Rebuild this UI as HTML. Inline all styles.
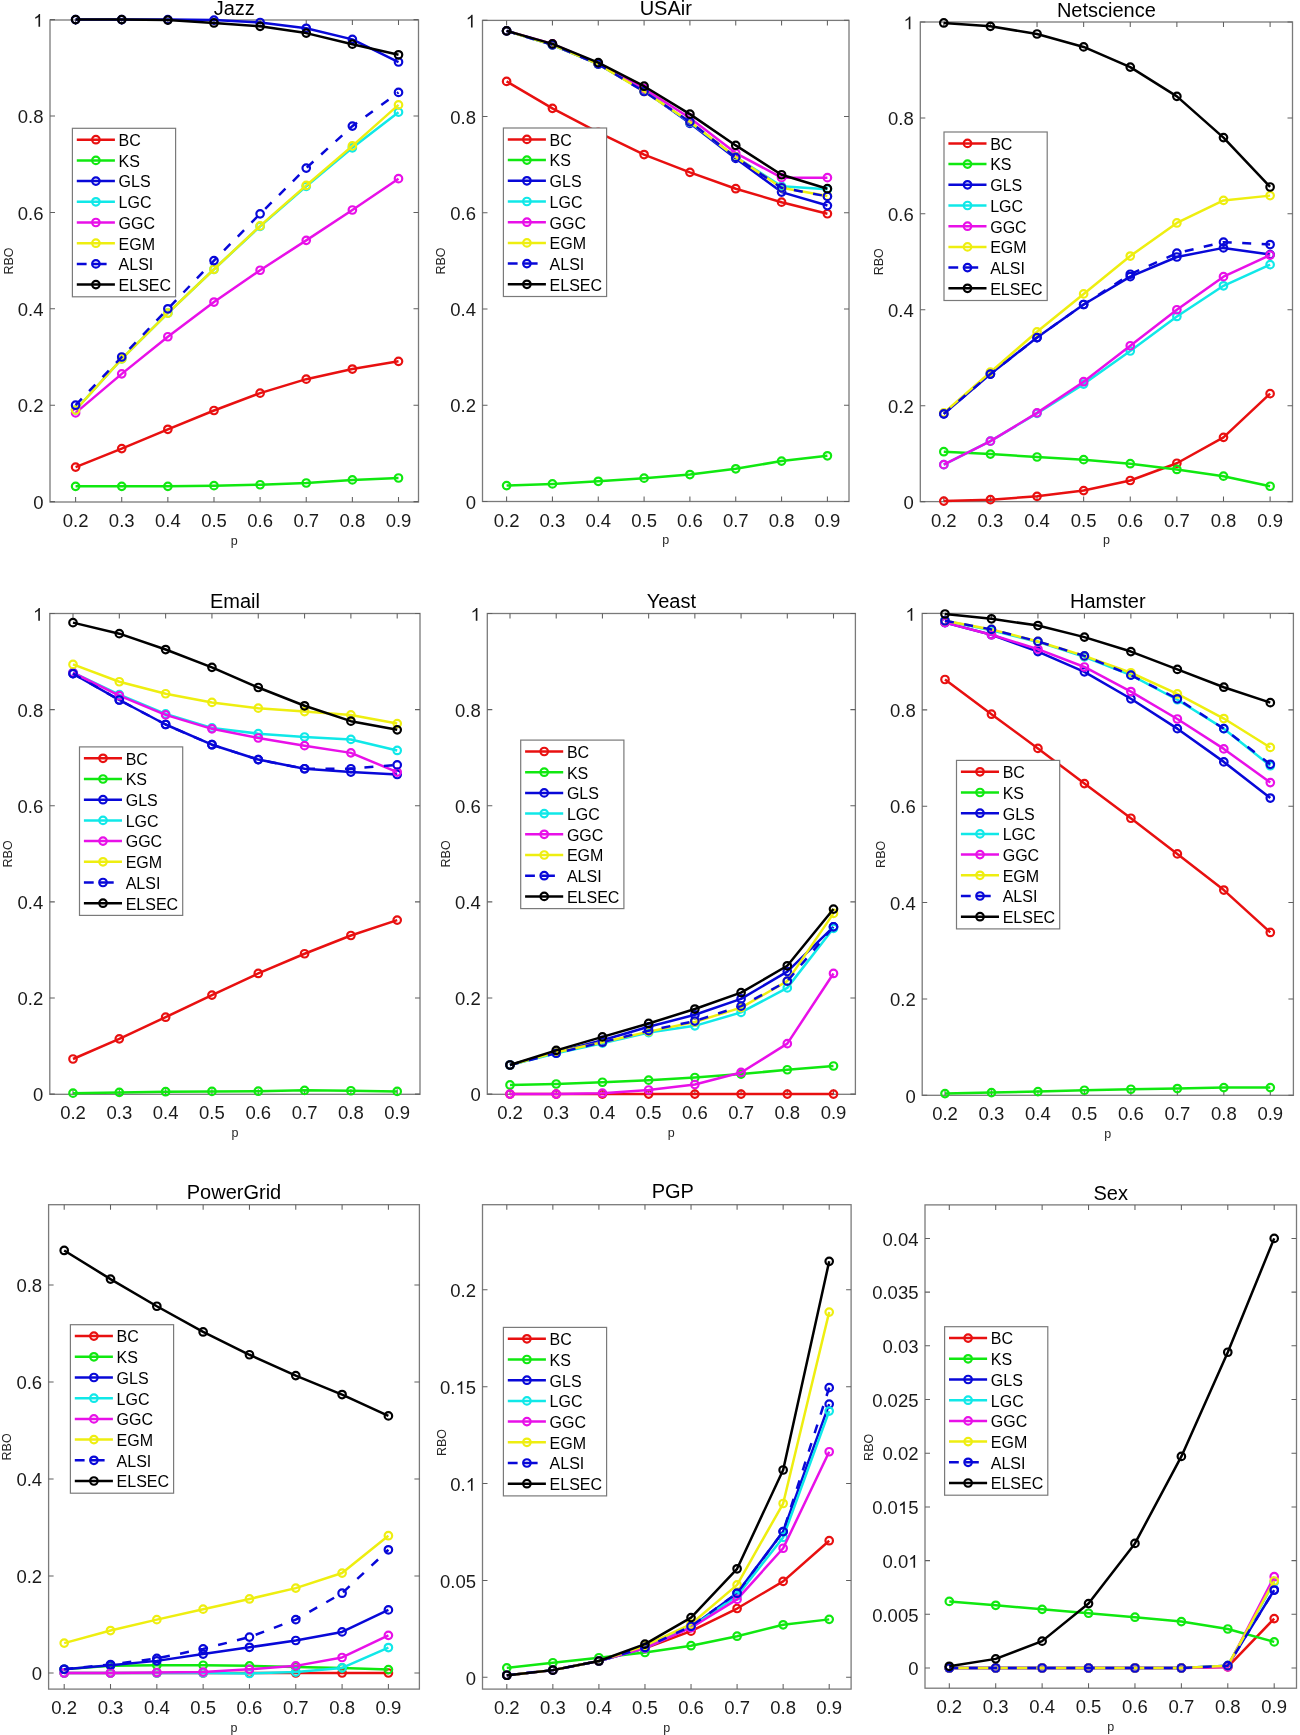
<!DOCTYPE html>
<html><head><meta charset="utf-8"><title>RBO charts</title>
<style>
html,body{margin:0;padding:0;background:#fff;}
body{width:1300px;height:1735px;overflow:hidden;}
svg{display:block;font-family:"Liberation Sans", sans-serif;will-change:transform;}
</style></head><body>
<svg width="1300" height="1735" viewBox="0 0 1300 1735">
<rect width="1300" height="1735" fill="#fff"/>
<clipPath id="cJazz"><rect x="50" y="20" width="368.5" height="482"/></clipPath>
<rect x="50" y="20" width="368.5" height="482" fill="none" stroke="#7a7a7a" stroke-width="1.3"/>
<path d="M75.6 502v-5M75.6 20v5M121.73 502v-5M121.73 20v5M167.86 502v-5M167.86 20v5M213.99 502v-5M213.99 20v5M260.11 502v-5M260.11 20v5M306.24 502v-5M306.24 20v5M352.37 502v-5M352.37 20v5M398.5 502v-5M398.5 20v5M50 501.6h5M418.5 501.6h-5M50 405.2h5M418.5 405.2h-5M50 308.8h5M418.5 308.8h-5M50 212.4h5M418.5 212.4h-5M50 116h5M418.5 116h-5M50 19.6h5M418.5 19.6h-5" stroke="#606060" stroke-width="1.05" fill="none"/>
<g font-size="18.5" fill="#1a1a1a"><text x="62.74" y="527">0.2</text><text x="108.87" y="527">0.3</text><text x="155" y="527">0.4</text><text x="201.13" y="527">0.5</text><text x="247.26" y="527">0.6</text><text x="293.38" y="527">0.7</text><text x="339.51" y="527">0.8</text><text x="385.64" y="527">0.9</text><text x="33.21" y="508.8">0</text><text x="17.78" y="412.4">0.2</text><text x="17.78" y="316">0.4</text><text x="17.78" y="219.6">0.6</text><text x="17.78" y="123.2">0.8</text><text x="33.21" y="26.8"> </text><path transform="translate(33.21 26.8) scale(0.00903 -0.00903)" d="M763 0H583V1098C540 1059 483 1020 413 980C342 941 279 911 223 891V1058C324 1103 412 1158 487 1221C562 1284 615 1347 646 1409H763Z"/></g>
<text x="234.25" y="14.7" text-anchor="middle" font-size="20" fill="#000">Jazz</text>
<text x="234.25" y="544.7" text-anchor="middle" font-size="12.5" fill="#262626">p</text>
<text transform="translate(12.5 261) rotate(-90)" text-anchor="middle" font-size="12.5" fill="#262626">RBO</text>
<g fill="none" stroke-linejoin="round"><polyline points="75.6,467.09 121.73,448.58 167.86,429.3 213.99,410.5 260.11,393.15 306.24,379.17 352.37,369.05 398.5,361.34" stroke="#e81010" stroke-width="2.5"/><g stroke="#e81010" stroke-width="2.2"><circle cx="75.6" cy="467.09" r="3.75"/><circle cx="121.73" cy="448.58" r="3.75"/><circle cx="167.86" cy="429.3" r="3.75"/><circle cx="213.99" cy="410.5" r="3.75"/><circle cx="260.11" cy="393.15" r="3.75"/><circle cx="306.24" cy="379.17" r="3.75"/><circle cx="352.37" cy="369.05" r="3.75"/><circle cx="398.5" cy="361.34" r="3.75"/></g><polyline points="75.6,486.37 121.73,486.37 167.86,486.37 213.99,485.69 260.11,484.73 306.24,482.99 352.37,479.91 398.5,477.98" stroke="#10e810" stroke-width="2.5"/><g stroke="#10e810" stroke-width="2.2"><circle cx="75.6" cy="486.37" r="3.75"/><circle cx="121.73" cy="486.37" r="3.75"/><circle cx="167.86" cy="486.37" r="3.75"/><circle cx="213.99" cy="485.69" r="3.75"/><circle cx="260.11" cy="484.73" r="3.75"/><circle cx="306.24" cy="482.99" r="3.75"/><circle cx="352.37" cy="479.91" r="3.75"/><circle cx="398.5" cy="477.98" r="3.75"/></g><polyline points="75.6,19.6 121.73,19.6 167.86,19.6 213.99,20.08 260.11,22.49 306.24,28.28 352.37,39.36 398.5,62.02" stroke="#0808d8" stroke-width="2.5"/><g stroke="#0808d8" stroke-width="2.2"><circle cx="75.6" cy="19.6" r="3.75"/><circle cx="121.73" cy="19.6" r="3.75"/><circle cx="167.86" cy="19.6" r="3.75"/><circle cx="213.99" cy="20.08" r="3.75"/><circle cx="260.11" cy="22.49" r="3.75"/><circle cx="306.24" cy="28.28" r="3.75"/><circle cx="352.37" cy="39.36" r="3.75"/><circle cx="398.5" cy="62.02" r="3.75"/></g><polyline points="75.6,410.02 121.73,358.93 167.86,313.14 213.99,269.28 260.11,226.38 306.24,186.37 352.37,147.81 398.5,112.14" stroke="#10e8e8" stroke-width="2.5"/><g stroke="#10e8e8" stroke-width="2.2"><circle cx="75.6" cy="410.02" r="3.75"/><circle cx="121.73" cy="358.93" r="3.75"/><circle cx="167.86" cy="313.14" r="3.75"/><circle cx="213.99" cy="269.28" r="3.75"/><circle cx="260.11" cy="226.38" r="3.75"/><circle cx="306.24" cy="186.37" r="3.75"/><circle cx="352.37" cy="147.81" r="3.75"/><circle cx="398.5" cy="112.14" r="3.75"/></g><polyline points="75.6,412.91 121.73,373.87 167.86,336.76 213.99,302.05 260.11,270.24 306.24,240.36 352.37,209.99 398.5,178.66" stroke="#e810e8" stroke-width="2.5"/><g stroke="#e810e8" stroke-width="2.2"><circle cx="75.6" cy="412.91" r="3.75"/><circle cx="121.73" cy="373.87" r="3.75"/><circle cx="167.86" cy="336.76" r="3.75"/><circle cx="213.99" cy="302.05" r="3.75"/><circle cx="260.11" cy="270.24" r="3.75"/><circle cx="306.24" cy="240.36" r="3.75"/><circle cx="352.37" cy="209.99" r="3.75"/><circle cx="398.5" cy="178.66" r="3.75"/></g><polyline points="75.6,410.02 121.73,358.93 167.86,313.14 213.99,269.28 260.11,225.9 306.24,185.41 352.37,145.88 398.5,104.91" stroke="#eeee10" stroke-width="2.5"/><g stroke="#eeee10" stroke-width="2.2"><circle cx="75.6" cy="410.02" r="3.75"/><circle cx="121.73" cy="358.93" r="3.75"/><circle cx="167.86" cy="313.14" r="3.75"/><circle cx="213.99" cy="269.28" r="3.75"/><circle cx="260.11" cy="225.9" r="3.75"/><circle cx="306.24" cy="185.41" r="3.75"/><circle cx="352.37" cy="145.88" r="3.75"/><circle cx="398.5" cy="104.91" r="3.75"/></g><polyline points="75.6,405.2 121.73,357 167.86,308.8 213.99,260.6 260.11,213.85 306.24,168.06 352.37,126.12 398.5,92.38" stroke="#0808d8" stroke-width="2.5" stroke-dasharray="9 10.5"/><g stroke="#0808d8" stroke-width="2.2"><circle cx="75.6" cy="405.2" r="3.75"/><circle cx="121.73" cy="357" r="3.75"/><circle cx="167.86" cy="308.8" r="3.75"/><circle cx="213.99" cy="260.6" r="3.75"/><circle cx="260.11" cy="213.85" r="3.75"/><circle cx="306.24" cy="168.06" r="3.75"/><circle cx="352.37" cy="126.12" r="3.75"/><circle cx="398.5" cy="92.38" r="3.75"/></g><polyline points="75.6,19.6 121.73,19.6 167.86,20.08 213.99,22.97 260.11,26.35 306.24,33.1 352.37,44.18 398.5,54.79" stroke="#000000" stroke-width="2.5"/><g stroke="#000000" stroke-width="2.2"><circle cx="75.6" cy="19.6" r="3.75"/><circle cx="121.73" cy="19.6" r="3.75"/><circle cx="167.86" cy="20.08" r="3.75"/><circle cx="213.99" cy="22.97" r="3.75"/><circle cx="260.11" cy="26.35" r="3.75"/><circle cx="306.24" cy="33.1" r="3.75"/><circle cx="352.37" cy="44.18" r="3.75"/><circle cx="398.5" cy="54.79" r="3.75"/></g></g>
<rect x="72.4" y="128.3" width="103.2" height="168.5" fill="#fff" stroke="#7a7a7a" stroke-width="1.2"/><path d="M76.8 139.7H114.9" stroke="#e81010" stroke-width="2.5" fill="none"/><circle cx="95.9" cy="139.7" r="3.75" fill="none" stroke="#e81010" stroke-width="2.2"/><text x="118.6" y="146" font-size="16" fill="#000">BC</text><path d="M76.8 160.4H114.9" stroke="#10e810" stroke-width="2.5" fill="none"/><circle cx="95.9" cy="160.4" r="3.75" fill="none" stroke="#10e810" stroke-width="2.2"/><text x="118.6" y="166.7" font-size="16" fill="#000">KS</text><path d="M76.8 181.1H114.9" stroke="#0808d8" stroke-width="2.5" fill="none"/><circle cx="95.9" cy="181.1" r="3.75" fill="none" stroke="#0808d8" stroke-width="2.2"/><text x="118.6" y="187.4" font-size="16" fill="#000">GLS</text><path d="M76.8 201.8H114.9" stroke="#10e8e8" stroke-width="2.5" fill="none"/><circle cx="95.9" cy="201.8" r="3.75" fill="none" stroke="#10e8e8" stroke-width="2.2"/><text x="118.6" y="208.1" font-size="16" fill="#000">LGC</text><path d="M76.8 222.5H114.9" stroke="#e810e8" stroke-width="2.5" fill="none"/><circle cx="95.9" cy="222.5" r="3.75" fill="none" stroke="#e810e8" stroke-width="2.2"/><text x="118.6" y="228.8" font-size="16" fill="#000">GGC</text><path d="M76.8 243.2H114.9" stroke="#eeee10" stroke-width="2.5" fill="none"/><circle cx="95.9" cy="243.2" r="3.75" fill="none" stroke="#eeee10" stroke-width="2.2"/><text x="118.6" y="249.5" font-size="16" fill="#000">EGM</text><path d="M76.8 263.9H86.6M92.9 263.9H106.6" stroke="#0808d8" stroke-width="2.5" fill="none"/><circle cx="95.9" cy="263.9" r="3.75" fill="none" stroke="#0808d8" stroke-width="2.2"/><text x="118.6" y="270.2" font-size="16" fill="#000">ALSI</text><path d="M76.8 284.6H114.9" stroke="#000000" stroke-width="2.5" fill="none"/><circle cx="95.9" cy="284.6" r="3.75" fill="none" stroke="#000000" stroke-width="2.2"/><text x="118.6" y="290.9" font-size="16" fill="#000">ELSEC</text>
<clipPath id="cUSAir"><rect x="482.5" y="20.4" width="366.5" height="481.1"/></clipPath>
<rect x="482.5" y="20.4" width="366.5" height="481.1" fill="none" stroke="#7a7a7a" stroke-width="1.3"/>
<path d="M506.6 501.5v-5M506.6 20.4v5M552.43 501.5v-5M552.43 20.4v5M598.26 501.5v-5M598.26 20.4v5M644.09 501.5v-5M644.09 20.4v5M689.91 501.5v-5M689.91 20.4v5M735.74 501.5v-5M735.74 20.4v5M781.57 501.5v-5M781.57 20.4v5M827.4 501.5v-5M827.4 20.4v5M482.5 501.5h5M849 501.5h-5M482.5 405.26h5M849 405.26h-5M482.5 309.02h5M849 309.02h-5M482.5 212.78h5M849 212.78h-5M482.5 116.54h5M849 116.54h-5M482.5 20.3h5M849 20.3h-5" stroke="#606060" stroke-width="1.05" fill="none"/>
<g font-size="18.5" fill="#1a1a1a"><text x="493.74" y="526.5">0.2</text><text x="539.57" y="526.5">0.3</text><text x="585.4" y="526.5">0.4</text><text x="631.23" y="526.5">0.5</text><text x="677.06" y="526.5">0.6</text><text x="722.88" y="526.5">0.7</text><text x="768.71" y="526.5">0.8</text><text x="814.54" y="526.5">0.9</text><text x="465.71" y="508.7">0</text><text x="450.28" y="412.46">0.2</text><text x="450.28" y="316.22">0.4</text><text x="450.28" y="219.98">0.6</text><text x="450.28" y="123.74">0.8</text><text x="465.71" y="27.5"> </text><path transform="translate(465.71 27.5) scale(0.00903 -0.00903)" d="M763 0H583V1098C540 1059 483 1020 413 980C342 941 279 911 223 891V1058C324 1103 412 1158 487 1221C562 1284 615 1347 646 1409H763Z"/></g>
<text x="665.75" y="15.1" text-anchor="middle" font-size="20" fill="#000">USAir</text>
<text x="665.75" y="544.2" text-anchor="middle" font-size="12.5" fill="#262626">p</text>
<text transform="translate(445.2 260.95) rotate(-90)" text-anchor="middle" font-size="12.5" fill="#262626">RBO</text>
<g fill="none" stroke-linejoin="round"><polyline points="506.6,81.41 552.43,108.36 598.26,132.42 644.09,154.55 689.91,172.36 735.74,188.72 781.57,202.19 827.4,213.74" stroke="#e81010" stroke-width="2.5"/><g stroke="#e81010" stroke-width="2.2"><circle cx="506.6" cy="81.41" r="3.75"/><circle cx="552.43" cy="108.36" r="3.75"/><circle cx="598.26" cy="132.42" r="3.75"/><circle cx="644.09" cy="154.55" r="3.75"/><circle cx="689.91" cy="172.36" r="3.75"/><circle cx="735.74" cy="188.72" r="3.75"/><circle cx="781.57" cy="202.19" r="3.75"/><circle cx="827.4" cy="213.74" r="3.75"/></g><polyline points="506.6,485.62 552.43,483.89 598.26,481.29 644.09,478.16 689.91,474.55 735.74,468.78 781.57,461.08 827.4,455.79" stroke="#10e810" stroke-width="2.5"/><g stroke="#10e810" stroke-width="2.2"><circle cx="506.6" cy="485.62" r="3.75"/><circle cx="552.43" cy="483.89" r="3.75"/><circle cx="598.26" cy="481.29" r="3.75"/><circle cx="644.09" cy="478.16" r="3.75"/><circle cx="689.91" cy="474.55" r="3.75"/><circle cx="735.74" cy="468.78" r="3.75"/><circle cx="781.57" cy="461.08" r="3.75"/><circle cx="827.4" cy="455.79" r="3.75"/></g><polyline points="506.6,30.89 552.43,44.84 598.26,64.09 644.09,90.56 689.91,123.28 735.74,158.4 781.57,192.09 827.4,205.56" stroke="#0808d8" stroke-width="2.5"/><g stroke="#0808d8" stroke-width="2.2"><circle cx="506.6" cy="30.89" r="3.75"/><circle cx="552.43" cy="44.84" r="3.75"/><circle cx="598.26" cy="64.09" r="3.75"/><circle cx="644.09" cy="90.56" r="3.75"/><circle cx="689.91" cy="123.28" r="3.75"/><circle cx="735.74" cy="158.4" r="3.75"/><circle cx="781.57" cy="192.09" r="3.75"/><circle cx="827.4" cy="205.56" r="3.75"/></g><polyline points="506.6,30.89 552.43,44.84 598.26,64.09 644.09,91.04 689.91,122.31 735.74,156.96 781.57,186.31 827.4,189.2" stroke="#10e8e8" stroke-width="2.5"/><g stroke="#10e8e8" stroke-width="2.2"><circle cx="506.6" cy="30.89" r="3.75"/><circle cx="552.43" cy="44.84" r="3.75"/><circle cx="598.26" cy="64.09" r="3.75"/><circle cx="644.09" cy="91.04" r="3.75"/><circle cx="689.91" cy="122.31" r="3.75"/><circle cx="735.74" cy="156.96" r="3.75"/><circle cx="781.57" cy="186.31" r="3.75"/><circle cx="827.4" cy="189.2" r="3.75"/></g><polyline points="506.6,30.89 552.43,43.88 598.26,63.61 644.09,88.63 689.91,117.98 735.74,153.11 781.57,177.65 827.4,177.65" stroke="#e810e8" stroke-width="2.5"/><g stroke="#e810e8" stroke-width="2.2"><circle cx="506.6" cy="30.89" r="3.75"/><circle cx="552.43" cy="43.88" r="3.75"/><circle cx="598.26" cy="63.61" r="3.75"/><circle cx="644.09" cy="88.63" r="3.75"/><circle cx="689.91" cy="117.98" r="3.75"/><circle cx="735.74" cy="153.11" r="3.75"/><circle cx="781.57" cy="177.65" r="3.75"/><circle cx="827.4" cy="177.65" r="3.75"/></g><polyline points="506.6,30.89 552.43,44.84 598.26,64.09 644.09,91.52 689.91,121.83 735.74,156.96 781.57,187.76 827.4,195.94" stroke="#eeee10" stroke-width="2.5"/><g stroke="#eeee10" stroke-width="2.2"><circle cx="506.6" cy="30.89" r="3.75"/><circle cx="552.43" cy="44.84" r="3.75"/><circle cx="598.26" cy="64.09" r="3.75"/><circle cx="644.09" cy="91.52" r="3.75"/><circle cx="689.91" cy="121.83" r="3.75"/><circle cx="735.74" cy="156.96" r="3.75"/><circle cx="781.57" cy="187.76" r="3.75"/><circle cx="827.4" cy="195.94" r="3.75"/></g><polyline points="506.6,30.89 552.43,44.84 598.26,64.09 644.09,91.52 689.91,121.83 735.74,157.44 781.57,187.76 827.4,196.42" stroke="#0808d8" stroke-width="2.5" stroke-dasharray="9 10.5"/><g stroke="#0808d8" stroke-width="2.2"><circle cx="506.6" cy="30.89" r="3.75"/><circle cx="552.43" cy="44.84" r="3.75"/><circle cx="598.26" cy="64.09" r="3.75"/><circle cx="644.09" cy="91.52" r="3.75"/><circle cx="689.91" cy="121.83" r="3.75"/><circle cx="735.74" cy="157.44" r="3.75"/><circle cx="781.57" cy="187.76" r="3.75"/><circle cx="827.4" cy="196.42" r="3.75"/></g><polyline points="506.6,30.89 552.43,43.88 598.26,62.65 644.09,86.22 689.91,114.13 735.74,145.41 781.57,174.77 827.4,188.72" stroke="#000000" stroke-width="2.5"/><g stroke="#000000" stroke-width="2.2"><circle cx="506.6" cy="30.89" r="3.75"/><circle cx="552.43" cy="43.88" r="3.75"/><circle cx="598.26" cy="62.65" r="3.75"/><circle cx="644.09" cy="86.22" r="3.75"/><circle cx="689.91" cy="114.13" r="3.75"/><circle cx="735.74" cy="145.41" r="3.75"/><circle cx="781.57" cy="174.77" r="3.75"/><circle cx="827.4" cy="188.72" r="3.75"/></g></g>
<rect x="503.4" y="128" width="103.2" height="168.5" fill="#fff" stroke="#7a7a7a" stroke-width="1.2"/><path d="M507.8 139.4H545.9" stroke="#e81010" stroke-width="2.5" fill="none"/><circle cx="526.9" cy="139.4" r="3.75" fill="none" stroke="#e81010" stroke-width="2.2"/><text x="549.6" y="145.7" font-size="16" fill="#000">BC</text><path d="M507.8 160.1H545.9" stroke="#10e810" stroke-width="2.5" fill="none"/><circle cx="526.9" cy="160.1" r="3.75" fill="none" stroke="#10e810" stroke-width="2.2"/><text x="549.6" y="166.4" font-size="16" fill="#000">KS</text><path d="M507.8 180.8H545.9" stroke="#0808d8" stroke-width="2.5" fill="none"/><circle cx="526.9" cy="180.8" r="3.75" fill="none" stroke="#0808d8" stroke-width="2.2"/><text x="549.6" y="187.1" font-size="16" fill="#000">GLS</text><path d="M507.8 201.5H545.9" stroke="#10e8e8" stroke-width="2.5" fill="none"/><circle cx="526.9" cy="201.5" r="3.75" fill="none" stroke="#10e8e8" stroke-width="2.2"/><text x="549.6" y="207.8" font-size="16" fill="#000">LGC</text><path d="M507.8 222.2H545.9" stroke="#e810e8" stroke-width="2.5" fill="none"/><circle cx="526.9" cy="222.2" r="3.75" fill="none" stroke="#e810e8" stroke-width="2.2"/><text x="549.6" y="228.5" font-size="16" fill="#000">GGC</text><path d="M507.8 242.9H545.9" stroke="#eeee10" stroke-width="2.5" fill="none"/><circle cx="526.9" cy="242.9" r="3.75" fill="none" stroke="#eeee10" stroke-width="2.2"/><text x="549.6" y="249.2" font-size="16" fill="#000">EGM</text><path d="M507.8 263.6H517.6M523.9 263.6H537.6" stroke="#0808d8" stroke-width="2.5" fill="none"/><circle cx="526.9" cy="263.6" r="3.75" fill="none" stroke="#0808d8" stroke-width="2.2"/><text x="549.6" y="269.9" font-size="16" fill="#000">ALSI</text><path d="M507.8 284.3H545.9" stroke="#000000" stroke-width="2.5" fill="none"/><circle cx="526.9" cy="284.3" r="3.75" fill="none" stroke="#000000" stroke-width="2.2"/><text x="549.6" y="290.6" font-size="16" fill="#000">ELSEC</text>
<clipPath id="cNetscience"><rect x="920.3" y="22" width="372.2" height="479.6"/></clipPath>
<rect x="920.3" y="22" width="372.2" height="479.6" fill="none" stroke="#7a7a7a" stroke-width="1.3"/>
<path d="M943.8 501.6v-5M943.8 22v5M990.41 501.6v-5M990.41 22v5M1037.03 501.6v-5M1037.03 22v5M1083.64 501.6v-5M1083.64 22v5M1130.26 501.6v-5M1130.26 22v5M1176.87 501.6v-5M1176.87 22v5M1223.49 501.6v-5M1223.49 22v5M1270.1 501.6v-5M1270.1 22v5M920.3 501.6h5M1292.5 501.6h-5M920.3 405.68h5M1292.5 405.68h-5M920.3 309.76h5M1292.5 309.76h-5M920.3 213.84h5M1292.5 213.84h-5M920.3 117.92h5M1292.5 117.92h-5M920.3 22h5M1292.5 22h-5" stroke="#606060" stroke-width="1.05" fill="none"/>
<g font-size="18.5" fill="#1a1a1a"><text x="930.94" y="526.6">0.2</text><text x="977.56" y="526.6">0.3</text><text x="1024.17" y="526.6">0.4</text><text x="1070.78" y="526.6">0.5</text><text x="1117.4" y="526.6">0.6</text><text x="1164.01" y="526.6">0.7</text><text x="1210.63" y="526.6">0.8</text><text x="1257.24" y="526.6">0.9</text><text x="903.51" y="508.8">0</text><text x="888.08" y="412.88">0.2</text><text x="888.08" y="316.96">0.4</text><text x="888.08" y="221.04">0.6</text><text x="888.08" y="125.12">0.8</text><text x="903.51" y="29.2"> </text><path transform="translate(903.51 29.2) scale(0.00903 -0.00903)" d="M763 0H583V1098C540 1059 483 1020 413 980C342 941 279 911 223 891V1058C324 1103 412 1158 487 1221C562 1284 615 1347 646 1409H763Z"/></g>
<text x="1106.4" y="16.7" text-anchor="middle" font-size="20" fill="#000">Netscience</text>
<text x="1106.4" y="544.3" text-anchor="middle" font-size="12.5" fill="#262626">p</text>
<text transform="translate(883 261.8) rotate(-90)" text-anchor="middle" font-size="12.5" fill="#262626">RBO</text>
<g fill="none" stroke-linejoin="round"><polyline points="943.8,501.12 990.41,499.68 1037.03,496.32 1083.64,490.57 1130.26,480.5 1176.87,463.23 1223.49,437.33 1270.1,393.69" stroke="#e81010" stroke-width="2.5"/><g stroke="#e81010" stroke-width="2.2"><circle cx="943.8" cy="501.12" r="3.75"/><circle cx="990.41" cy="499.68" r="3.75"/><circle cx="1037.03" cy="496.32" r="3.75"/><circle cx="1083.64" cy="490.57" r="3.75"/><circle cx="1130.26" cy="480.5" r="3.75"/><circle cx="1176.87" cy="463.23" r="3.75"/><circle cx="1223.49" cy="437.33" r="3.75"/><circle cx="1270.1" cy="393.69" r="3.75"/></g><polyline points="943.8,451.72 990.41,454.12 1037.03,457 1083.64,459.64 1130.26,463.71 1176.87,469.47 1223.49,476.18 1270.1,486.25" stroke="#10e810" stroke-width="2.5"/><g stroke="#10e810" stroke-width="2.2"><circle cx="943.8" cy="451.72" r="3.75"/><circle cx="990.41" cy="454.12" r="3.75"/><circle cx="1037.03" cy="457" r="3.75"/><circle cx="1083.64" cy="459.64" r="3.75"/><circle cx="1130.26" cy="463.71" r="3.75"/><circle cx="1176.87" cy="469.47" r="3.75"/><circle cx="1223.49" cy="476.18" r="3.75"/><circle cx="1270.1" cy="486.25" r="3.75"/></g><polyline points="943.8,413.83 990.41,374.03 1037.03,337.58 1083.64,304.48 1130.26,276.67 1176.87,257 1223.49,247.89 1270.1,254.61" stroke="#0808d8" stroke-width="2.5"/><g stroke="#0808d8" stroke-width="2.2"><circle cx="943.8" cy="413.83" r="3.75"/><circle cx="990.41" cy="374.03" r="3.75"/><circle cx="1037.03" cy="337.58" r="3.75"/><circle cx="1083.64" cy="304.48" r="3.75"/><circle cx="1130.26" cy="276.67" r="3.75"/><circle cx="1176.87" cy="257" r="3.75"/><circle cx="1223.49" cy="247.89" r="3.75"/><circle cx="1270.1" cy="254.61" r="3.75"/></g><polyline points="943.8,464.67 990.41,441.17 1037.03,413.35 1083.64,384.1 1130.26,351.01 1176.87,316.47 1223.49,285.78 1270.1,264.68" stroke="#10e8e8" stroke-width="2.5"/><g stroke="#10e8e8" stroke-width="2.2"><circle cx="943.8" cy="464.67" r="3.75"/><circle cx="990.41" cy="441.17" r="3.75"/><circle cx="1037.03" cy="413.35" r="3.75"/><circle cx="1083.64" cy="384.1" r="3.75"/><circle cx="1130.26" cy="351.01" r="3.75"/><circle cx="1176.87" cy="316.47" r="3.75"/><circle cx="1223.49" cy="285.78" r="3.75"/><circle cx="1270.1" cy="264.68" r="3.75"/></g><polyline points="943.8,464.67 990.41,441.17 1037.03,412.87 1083.64,381.7 1130.26,345.73 1176.87,309.76 1223.49,276.67 1270.1,255.09" stroke="#e810e8" stroke-width="2.5"/><g stroke="#e810e8" stroke-width="2.2"><circle cx="943.8" cy="464.67" r="3.75"/><circle cx="990.41" cy="441.17" r="3.75"/><circle cx="1037.03" cy="412.87" r="3.75"/><circle cx="1083.64" cy="381.7" r="3.75"/><circle cx="1130.26" cy="345.73" r="3.75"/><circle cx="1176.87" cy="309.76" r="3.75"/><circle cx="1223.49" cy="276.67" r="3.75"/><circle cx="1270.1" cy="255.09" r="3.75"/></g><polyline points="943.8,412.87 990.41,372.11 1037.03,331.82 1083.64,293.93 1130.26,256.04 1176.87,222.95 1223.49,200.41 1270.1,195.62" stroke="#eeee10" stroke-width="2.5"/><g stroke="#eeee10" stroke-width="2.2"><circle cx="943.8" cy="412.87" r="3.75"/><circle cx="990.41" cy="372.11" r="3.75"/><circle cx="1037.03" cy="331.82" r="3.75"/><circle cx="1083.64" cy="293.93" r="3.75"/><circle cx="1130.26" cy="256.04" r="3.75"/><circle cx="1176.87" cy="222.95" r="3.75"/><circle cx="1223.49" cy="200.41" r="3.75"/><circle cx="1270.1" cy="195.62" r="3.75"/></g><polyline points="943.8,413.83 990.41,374.03 1037.03,337.58 1083.64,304.48 1130.26,274.27 1176.87,253.17 1223.49,242.14 1270.1,244.53" stroke="#0808d8" stroke-width="2.5" stroke-dasharray="9 10.5"/><g stroke="#0808d8" stroke-width="2.2"><circle cx="943.8" cy="413.83" r="3.75"/><circle cx="990.41" cy="374.03" r="3.75"/><circle cx="1037.03" cy="337.58" r="3.75"/><circle cx="1083.64" cy="304.48" r="3.75"/><circle cx="1130.26" cy="274.27" r="3.75"/><circle cx="1176.87" cy="253.17" r="3.75"/><circle cx="1223.49" cy="242.14" r="3.75"/><circle cx="1270.1" cy="244.53" r="3.75"/></g><polyline points="943.8,22.96 990.41,26.32 1037.03,33.99 1083.64,46.94 1130.26,67.08 1176.87,96.34 1223.49,137.58 1270.1,186.98" stroke="#000000" stroke-width="2.5"/><g stroke="#000000" stroke-width="2.2"><circle cx="943.8" cy="22.96" r="3.75"/><circle cx="990.41" cy="26.32" r="3.75"/><circle cx="1037.03" cy="33.99" r="3.75"/><circle cx="1083.64" cy="46.94" r="3.75"/><circle cx="1130.26" cy="67.08" r="3.75"/><circle cx="1176.87" cy="96.34" r="3.75"/><circle cx="1223.49" cy="137.58" r="3.75"/><circle cx="1270.1" cy="186.98" r="3.75"/></g></g>
<rect x="944" y="132" width="103.2" height="168.5" fill="#fff" stroke="#7a7a7a" stroke-width="1.2"/><path d="M948.4 143.4H986.5" stroke="#e81010" stroke-width="2.5" fill="none"/><circle cx="967.5" cy="143.4" r="3.75" fill="none" stroke="#e81010" stroke-width="2.2"/><text x="990.2" y="149.7" font-size="16" fill="#000">BC</text><path d="M948.4 164.1H986.5" stroke="#10e810" stroke-width="2.5" fill="none"/><circle cx="967.5" cy="164.1" r="3.75" fill="none" stroke="#10e810" stroke-width="2.2"/><text x="990.2" y="170.4" font-size="16" fill="#000">KS</text><path d="M948.4 184.8H986.5" stroke="#0808d8" stroke-width="2.5" fill="none"/><circle cx="967.5" cy="184.8" r="3.75" fill="none" stroke="#0808d8" stroke-width="2.2"/><text x="990.2" y="191.1" font-size="16" fill="#000">GLS</text><path d="M948.4 205.5H986.5" stroke="#10e8e8" stroke-width="2.5" fill="none"/><circle cx="967.5" cy="205.5" r="3.75" fill="none" stroke="#10e8e8" stroke-width="2.2"/><text x="990.2" y="211.8" font-size="16" fill="#000">LGC</text><path d="M948.4 226.2H986.5" stroke="#e810e8" stroke-width="2.5" fill="none"/><circle cx="967.5" cy="226.2" r="3.75" fill="none" stroke="#e810e8" stroke-width="2.2"/><text x="990.2" y="232.5" font-size="16" fill="#000">GGC</text><path d="M948.4 246.9H986.5" stroke="#eeee10" stroke-width="2.5" fill="none"/><circle cx="967.5" cy="246.9" r="3.75" fill="none" stroke="#eeee10" stroke-width="2.2"/><text x="990.2" y="253.2" font-size="16" fill="#000">EGM</text><path d="M948.4 267.6H958.2M964.5 267.6H978.2" stroke="#0808d8" stroke-width="2.5" fill="none"/><circle cx="967.5" cy="267.6" r="3.75" fill="none" stroke="#0808d8" stroke-width="2.2"/><text x="990.2" y="273.9" font-size="16" fill="#000">ALSI</text><path d="M948.4 288.3H986.5" stroke="#000000" stroke-width="2.5" fill="none"/><circle cx="967.5" cy="288.3" r="3.75" fill="none" stroke="#000000" stroke-width="2.2"/><text x="990.2" y="294.6" font-size="16" fill="#000">ELSEC</text>
<clipPath id="cEmail"><rect x="49.8" y="613.5" width="370.2" height="480.8"/></clipPath>
<rect x="49.8" y="613.5" width="370.2" height="480.8" fill="none" stroke="#7a7a7a" stroke-width="1.3"/>
<path d="M73 1094.3v-5M73 613.5v5M119.31 1094.3v-5M119.31 613.5v5M165.63 1094.3v-5M165.63 613.5v5M211.94 1094.3v-5M211.94 613.5v5M258.26 1094.3v-5M258.26 613.5v5M304.57 1094.3v-5M304.57 613.5v5M350.89 1094.3v-5M350.89 613.5v5M397.2 1094.3v-5M397.2 613.5v5M49.8 1094.1h5M420 1094.1h-5M49.8 997.98h5M420 997.98h-5M49.8 901.86h5M420 901.86h-5M49.8 805.74h5M420 805.74h-5M49.8 709.62h5M420 709.62h-5M49.8 613.5h5M420 613.5h-5" stroke="#606060" stroke-width="1.05" fill="none"/>
<g font-size="18.5" fill="#1a1a1a"><text x="60.14" y="1119.3">0.2</text><text x="106.46" y="1119.3">0.3</text><text x="152.77" y="1119.3">0.4</text><text x="199.08" y="1119.3">0.5</text><text x="245.4" y="1119.3">0.6</text><text x="291.71" y="1119.3">0.7</text><text x="338.03" y="1119.3">0.8</text><text x="384.34" y="1119.3">0.9</text><text x="33.01" y="1101.3">0</text><text x="17.58" y="1005.18">0.2</text><text x="17.58" y="909.06">0.4</text><text x="17.58" y="812.94">0.6</text><text x="17.58" y="716.82">0.8</text><text x="33.01" y="620.7"> </text><path transform="translate(33.01 620.7) scale(0.00903 -0.00903)" d="M763 0H583V1098C540 1059 483 1020 413 980C342 941 279 911 223 891V1058C324 1103 412 1158 487 1221C562 1284 615 1347 646 1409H763Z"/></g>
<text x="234.9" y="608.2" text-anchor="middle" font-size="20" fill="#000">Email</text>
<text x="234.9" y="1137" text-anchor="middle" font-size="12.5" fill="#262626">p</text>
<text transform="translate(12.3 853.9) rotate(-90)" text-anchor="middle" font-size="12.5" fill="#262626">RBO</text>
<g fill="none" stroke-linejoin="round"><polyline points="73,1059.02 119.31,1038.83 165.63,1017.2 211.94,995.1 258.26,973.47 304.57,953.76 350.89,935.5 397.2,920.12" stroke="#e81010" stroke-width="2.5"/><g stroke="#e81010" stroke-width="2.2"><circle cx="73" cy="1059.02" r="3.75"/><circle cx="119.31" cy="1038.83" r="3.75"/><circle cx="165.63" cy="1017.2" r="3.75"/><circle cx="211.94" cy="995.1" r="3.75"/><circle cx="258.26" cy="973.47" r="3.75"/><circle cx="304.57" cy="953.76" r="3.75"/><circle cx="350.89" cy="935.5" r="3.75"/><circle cx="397.2" cy="920.12" r="3.75"/></g><polyline points="73,1093.14 119.31,1092.42 165.63,1091.7 211.94,1091.41 258.26,1091.22 304.57,1090.35 350.89,1090.74 397.2,1091.41" stroke="#10e810" stroke-width="2.5"/><g stroke="#10e810" stroke-width="2.2"><circle cx="73" cy="1093.14" r="3.75"/><circle cx="119.31" cy="1092.42" r="3.75"/><circle cx="165.63" cy="1091.7" r="3.75"/><circle cx="211.94" cy="1091.41" r="3.75"/><circle cx="258.26" cy="1091.22" r="3.75"/><circle cx="304.57" cy="1090.35" r="3.75"/><circle cx="350.89" cy="1090.74" r="3.75"/><circle cx="397.2" cy="1091.41" r="3.75"/></g><polyline points="73,673.58 119.31,700.01 165.63,724.52 211.94,744.7 258.26,759.6 304.57,768.73 350.89,772.1 397.2,774.5" stroke="#0808d8" stroke-width="2.5"/><g stroke="#0808d8" stroke-width="2.2"><circle cx="73" cy="673.58" r="3.75"/><circle cx="119.31" cy="700.01" r="3.75"/><circle cx="165.63" cy="724.52" r="3.75"/><circle cx="211.94" cy="744.7" r="3.75"/><circle cx="258.26" cy="759.6" r="3.75"/><circle cx="304.57" cy="768.73" r="3.75"/><circle cx="350.89" cy="772.1" r="3.75"/><circle cx="397.2" cy="774.5" r="3.75"/></g><polyline points="73,672.61 119.31,694.72 165.63,713.95 211.94,727.88 258.26,733.65 304.57,737.01 350.89,739.42 397.2,750.47" stroke="#10e8e8" stroke-width="2.5"/><g stroke="#10e8e8" stroke-width="2.2"><circle cx="73" cy="672.61" r="3.75"/><circle cx="119.31" cy="694.72" r="3.75"/><circle cx="165.63" cy="713.95" r="3.75"/><circle cx="211.94" cy="727.88" r="3.75"/><circle cx="258.26" cy="733.65" r="3.75"/><circle cx="304.57" cy="737.01" r="3.75"/><circle cx="350.89" cy="739.42" r="3.75"/><circle cx="397.2" cy="750.47" r="3.75"/></g><polyline points="73,672.61 119.31,695.68 165.63,714.91 211.94,728.84 258.26,737.98 304.57,745.66 350.89,752.87 397.2,772.1" stroke="#e810e8" stroke-width="2.5"/><g stroke="#e810e8" stroke-width="2.2"><circle cx="73" cy="672.61" r="3.75"/><circle cx="119.31" cy="695.68" r="3.75"/><circle cx="165.63" cy="714.91" r="3.75"/><circle cx="211.94" cy="728.84" r="3.75"/><circle cx="258.26" cy="737.98" r="3.75"/><circle cx="304.57" cy="745.66" r="3.75"/><circle cx="350.89" cy="752.87" r="3.75"/><circle cx="397.2" cy="772.1" r="3.75"/></g><polyline points="73,664.44 119.31,681.75 165.63,693.76 211.94,702.41 258.26,708.18 304.57,711.54 350.89,714.91 397.2,723.56" stroke="#eeee10" stroke-width="2.5"/><g stroke="#eeee10" stroke-width="2.2"><circle cx="73" cy="664.44" r="3.75"/><circle cx="119.31" cy="681.75" r="3.75"/><circle cx="165.63" cy="693.76" r="3.75"/><circle cx="211.94" cy="702.41" r="3.75"/><circle cx="258.26" cy="708.18" r="3.75"/><circle cx="304.57" cy="711.54" r="3.75"/><circle cx="350.89" cy="714.91" r="3.75"/><circle cx="397.2" cy="723.56" r="3.75"/></g><polyline points="73,673.58 119.31,700.01 165.63,724.52 211.94,744.7 258.26,759.6 304.57,768.73 350.89,768.73 397.2,764.89" stroke="#0808d8" stroke-width="2.5" stroke-dasharray="9 10.5"/><g stroke="#0808d8" stroke-width="2.2"><circle cx="73" cy="673.58" r="3.75"/><circle cx="119.31" cy="700.01" r="3.75"/><circle cx="165.63" cy="724.52" r="3.75"/><circle cx="211.94" cy="744.7" r="3.75"/><circle cx="258.26" cy="759.6" r="3.75"/><circle cx="304.57" cy="768.73" r="3.75"/><circle cx="350.89" cy="768.73" r="3.75"/><circle cx="397.2" cy="764.89" r="3.75"/></g><polyline points="73,622.63 119.31,633.69 165.63,649.54 211.94,667.33 258.26,687.51 304.57,705.78 350.89,721.15 397.2,729.81" stroke="#000000" stroke-width="2.5"/><g stroke="#000000" stroke-width="2.2"><circle cx="73" cy="622.63" r="3.75"/><circle cx="119.31" cy="633.69" r="3.75"/><circle cx="165.63" cy="649.54" r="3.75"/><circle cx="211.94" cy="667.33" r="3.75"/><circle cx="258.26" cy="687.51" r="3.75"/><circle cx="304.57" cy="705.78" r="3.75"/><circle cx="350.89" cy="721.15" r="3.75"/><circle cx="397.2" cy="729.81" r="3.75"/></g></g>
<rect x="79.5" y="746.9" width="103.2" height="168.5" fill="#fff" stroke="#7a7a7a" stroke-width="1.2"/><path d="M83.9 758.3H122" stroke="#e81010" stroke-width="2.5" fill="none"/><circle cx="103" cy="758.3" r="3.75" fill="none" stroke="#e81010" stroke-width="2.2"/><text x="125.7" y="764.6" font-size="16" fill="#000">BC</text><path d="M83.9 779H122" stroke="#10e810" stroke-width="2.5" fill="none"/><circle cx="103" cy="779" r="3.75" fill="none" stroke="#10e810" stroke-width="2.2"/><text x="125.7" y="785.3" font-size="16" fill="#000">KS</text><path d="M83.9 799.7H122" stroke="#0808d8" stroke-width="2.5" fill="none"/><circle cx="103" cy="799.7" r="3.75" fill="none" stroke="#0808d8" stroke-width="2.2"/><text x="125.7" y="806" font-size="16" fill="#000">GLS</text><path d="M83.9 820.4H122" stroke="#10e8e8" stroke-width="2.5" fill="none"/><circle cx="103" cy="820.4" r="3.75" fill="none" stroke="#10e8e8" stroke-width="2.2"/><text x="125.7" y="826.7" font-size="16" fill="#000">LGC</text><path d="M83.9 841.1H122" stroke="#e810e8" stroke-width="2.5" fill="none"/><circle cx="103" cy="841.1" r="3.75" fill="none" stroke="#e810e8" stroke-width="2.2"/><text x="125.7" y="847.4" font-size="16" fill="#000">GGC</text><path d="M83.9 861.8H122" stroke="#eeee10" stroke-width="2.5" fill="none"/><circle cx="103" cy="861.8" r="3.75" fill="none" stroke="#eeee10" stroke-width="2.2"/><text x="125.7" y="868.1" font-size="16" fill="#000">EGM</text><path d="M83.9 882.5H93.7M100 882.5H113.7" stroke="#0808d8" stroke-width="2.5" fill="none"/><circle cx="103" cy="882.5" r="3.75" fill="none" stroke="#0808d8" stroke-width="2.2"/><text x="125.7" y="888.8" font-size="16" fill="#000">ALSI</text><path d="M83.9 903.2H122" stroke="#000000" stroke-width="2.5" fill="none"/><circle cx="103" cy="903.2" r="3.75" fill="none" stroke="#000000" stroke-width="2.2"/><text x="125.7" y="909.5" font-size="16" fill="#000">ELSEC</text>
<clipPath id="cYeast"><rect x="487.3" y="613.5" width="368.1" height="480.8"/></clipPath>
<rect x="487.3" y="613.5" width="368.1" height="480.8" fill="none" stroke="#7a7a7a" stroke-width="1.3"/>
<path d="M510 1094.3v-5M510 613.5v5M556.21 1094.3v-5M556.21 613.5v5M602.43 1094.3v-5M602.43 613.5v5M648.64 1094.3v-5M648.64 613.5v5M694.86 1094.3v-5M694.86 613.5v5M741.07 1094.3v-5M741.07 613.5v5M787.29 1094.3v-5M787.29 613.5v5M833.5 1094.3v-5M833.5 613.5v5M487.3 1094.1h5M855.4 1094.1h-5M487.3 997.98h5M855.4 997.98h-5M487.3 901.86h5M855.4 901.86h-5M487.3 805.74h5M855.4 805.74h-5M487.3 709.62h5M855.4 709.62h-5M487.3 613.5h5M855.4 613.5h-5" stroke="#606060" stroke-width="1.05" fill="none"/>
<g font-size="18.5" fill="#1a1a1a"><text x="497.14" y="1119.3">0.2</text><text x="543.36" y="1119.3">0.3</text><text x="589.57" y="1119.3">0.4</text><text x="635.78" y="1119.3">0.5</text><text x="682" y="1119.3">0.6</text><text x="728.21" y="1119.3">0.7</text><text x="774.43" y="1119.3">0.8</text><text x="820.64" y="1119.3">0.9</text><text x="470.51" y="1101.3">0</text><text x="455.08" y="1005.18">0.2</text><text x="455.08" y="909.06">0.4</text><text x="455.08" y="812.94">0.6</text><text x="455.08" y="716.82">0.8</text><text x="470.51" y="620.7"> </text><path transform="translate(470.51 620.7) scale(0.00903 -0.00903)" d="M763 0H583V1098C540 1059 483 1020 413 980C342 941 279 911 223 891V1058C324 1103 412 1158 487 1221C562 1284 615 1347 646 1409H763Z"/></g>
<text x="671.35" y="608.2" text-anchor="middle" font-size="20" fill="#000">Yeast</text>
<text x="671.35" y="1137" text-anchor="middle" font-size="12.5" fill="#262626">p</text>
<text transform="translate(449.8 853.9) rotate(-90)" text-anchor="middle" font-size="12.5" fill="#262626">RBO</text>
<g fill="none" stroke-linejoin="round"><polyline points="510,1094.1 556.21,1094.1 602.43,1094.1 648.64,1094.1 694.86,1094.1 741.07,1094.1 787.29,1094.1 833.5,1094.1" stroke="#e81010" stroke-width="2.5"/><g stroke="#e81010" stroke-width="2.2"><circle cx="510" cy="1094.1" r="3.75"/><circle cx="556.21" cy="1094.1" r="3.75"/><circle cx="602.43" cy="1094.1" r="3.75"/><circle cx="648.64" cy="1094.1" r="3.75"/><circle cx="694.86" cy="1094.1" r="3.75"/><circle cx="741.07" cy="1094.1" r="3.75"/><circle cx="787.29" cy="1094.1" r="3.75"/><circle cx="833.5" cy="1094.1" r="3.75"/></g><polyline points="510,1084.97 556.21,1084.01 602.43,1082.23 648.64,1080.16 694.86,1077.52 741.07,1074.11 787.29,1069.73 833.5,1065.98" stroke="#10e810" stroke-width="2.5"/><g stroke="#10e810" stroke-width="2.2"><circle cx="510" cy="1084.97" r="3.75"/><circle cx="556.21" cy="1084.01" r="3.75"/><circle cx="602.43" cy="1082.23" r="3.75"/><circle cx="648.64" cy="1080.16" r="3.75"/><circle cx="694.86" cy="1077.52" r="3.75"/><circle cx="741.07" cy="1074.11" r="3.75"/><circle cx="787.29" cy="1069.73" r="3.75"/><circle cx="833.5" cy="1065.98" r="3.75"/></g><polyline points="510,1064.98 556.21,1052.29 602.43,1040.27 648.64,1026.82 694.86,1014.8 741.07,998.94 787.29,971.55 833.5,926.85" stroke="#0808d8" stroke-width="2.5"/><g stroke="#0808d8" stroke-width="2.2"><circle cx="510" cy="1064.98" r="3.75"/><circle cx="556.21" cy="1052.29" r="3.75"/><circle cx="602.43" cy="1040.27" r="3.75"/><circle cx="648.64" cy="1026.82" r="3.75"/><circle cx="694.86" cy="1014.8" r="3.75"/><circle cx="741.07" cy="998.94" r="3.75"/><circle cx="787.29" cy="971.55" r="3.75"/><circle cx="833.5" cy="926.85" r="3.75"/></g><polyline points="510,1064.98 556.21,1053.25 602.43,1043.16 648.64,1032.58 694.86,1025.85 741.07,1012.4 787.29,987.89 833.5,928.29" stroke="#10e8e8" stroke-width="2.5"/><g stroke="#10e8e8" stroke-width="2.2"><circle cx="510" cy="1064.98" r="3.75"/><circle cx="556.21" cy="1053.25" r="3.75"/><circle cx="602.43" cy="1043.16" r="3.75"/><circle cx="648.64" cy="1032.58" r="3.75"/><circle cx="694.86" cy="1025.85" r="3.75"/><circle cx="741.07" cy="1012.4" r="3.75"/><circle cx="787.29" cy="987.89" r="3.75"/><circle cx="833.5" cy="928.29" r="3.75"/></g><polyline points="510,1094.1 556.21,1094.1 602.43,1093.14 648.64,1090.01 694.86,1084.49 741.07,1072.47 787.29,1043.64 833.5,973.47" stroke="#e810e8" stroke-width="2.5"/><g stroke="#e810e8" stroke-width="2.2"><circle cx="510" cy="1094.1" r="3.75"/><circle cx="556.21" cy="1094.1" r="3.75"/><circle cx="602.43" cy="1093.14" r="3.75"/><circle cx="648.64" cy="1090.01" r="3.75"/><circle cx="694.86" cy="1084.49" r="3.75"/><circle cx="741.07" cy="1072.47" r="3.75"/><circle cx="787.29" cy="1043.64" r="3.75"/><circle cx="833.5" cy="973.47" r="3.75"/></g><polyline points="510,1064.98 556.21,1052.29 602.43,1042.2 648.64,1031.62 694.86,1022.01 741.07,1007.59 787.29,981.16 833.5,913.39" stroke="#eeee10" stroke-width="2.5"/><g stroke="#eeee10" stroke-width="2.2"><circle cx="510" cy="1064.98" r="3.75"/><circle cx="556.21" cy="1052.29" r="3.75"/><circle cx="602.43" cy="1042.2" r="3.75"/><circle cx="648.64" cy="1031.62" r="3.75"/><circle cx="694.86" cy="1022.01" r="3.75"/><circle cx="741.07" cy="1007.59" r="3.75"/><circle cx="787.29" cy="981.16" r="3.75"/><circle cx="833.5" cy="913.39" r="3.75"/></g><polyline points="510,1064.98 556.21,1053.25 602.43,1042.2 648.64,1030.66 694.86,1021.05 741.07,1006.15 787.29,981.16 833.5,926.85" stroke="#0808d8" stroke-width="2.5" stroke-dasharray="9 10.5"/><g stroke="#0808d8" stroke-width="2.2"><circle cx="510" cy="1064.98" r="3.75"/><circle cx="556.21" cy="1053.25" r="3.75"/><circle cx="602.43" cy="1042.2" r="3.75"/><circle cx="648.64" cy="1030.66" r="3.75"/><circle cx="694.86" cy="1021.05" r="3.75"/><circle cx="741.07" cy="1006.15" r="3.75"/><circle cx="787.29" cy="981.16" r="3.75"/><circle cx="833.5" cy="926.85" r="3.75"/></g><polyline points="510,1064.98 556.21,1050.37 602.43,1036.91 648.64,1023.45 694.86,1009.03 741.07,992.69 787.29,965.78 833.5,909.07" stroke="#000000" stroke-width="2.5"/><g stroke="#000000" stroke-width="2.2"><circle cx="510" cy="1064.98" r="3.75"/><circle cx="556.21" cy="1050.37" r="3.75"/><circle cx="602.43" cy="1036.91" r="3.75"/><circle cx="648.64" cy="1023.45" r="3.75"/><circle cx="694.86" cy="1009.03" r="3.75"/><circle cx="741.07" cy="992.69" r="3.75"/><circle cx="787.29" cy="965.78" r="3.75"/><circle cx="833.5" cy="909.07" r="3.75"/></g></g>
<rect x="520.7" y="740.1" width="103.2" height="168.5" fill="#fff" stroke="#7a7a7a" stroke-width="1.2"/><path d="M525.1 751.5H563.2" stroke="#e81010" stroke-width="2.5" fill="none"/><circle cx="544.2" cy="751.5" r="3.75" fill="none" stroke="#e81010" stroke-width="2.2"/><text x="566.9" y="757.8" font-size="16" fill="#000">BC</text><path d="M525.1 772.2H563.2" stroke="#10e810" stroke-width="2.5" fill="none"/><circle cx="544.2" cy="772.2" r="3.75" fill="none" stroke="#10e810" stroke-width="2.2"/><text x="566.9" y="778.5" font-size="16" fill="#000">KS</text><path d="M525.1 792.9H563.2" stroke="#0808d8" stroke-width="2.5" fill="none"/><circle cx="544.2" cy="792.9" r="3.75" fill="none" stroke="#0808d8" stroke-width="2.2"/><text x="566.9" y="799.2" font-size="16" fill="#000">GLS</text><path d="M525.1 813.6H563.2" stroke="#10e8e8" stroke-width="2.5" fill="none"/><circle cx="544.2" cy="813.6" r="3.75" fill="none" stroke="#10e8e8" stroke-width="2.2"/><text x="566.9" y="819.9" font-size="16" fill="#000">LGC</text><path d="M525.1 834.3H563.2" stroke="#e810e8" stroke-width="2.5" fill="none"/><circle cx="544.2" cy="834.3" r="3.75" fill="none" stroke="#e810e8" stroke-width="2.2"/><text x="566.9" y="840.6" font-size="16" fill="#000">GGC</text><path d="M525.1 855H563.2" stroke="#eeee10" stroke-width="2.5" fill="none"/><circle cx="544.2" cy="855" r="3.75" fill="none" stroke="#eeee10" stroke-width="2.2"/><text x="566.9" y="861.3" font-size="16" fill="#000">EGM</text><path d="M525.1 875.7H534.9M541.2 875.7H554.9" stroke="#0808d8" stroke-width="2.5" fill="none"/><circle cx="544.2" cy="875.7" r="3.75" fill="none" stroke="#0808d8" stroke-width="2.2"/><text x="566.9" y="882" font-size="16" fill="#000">ALSI</text><path d="M525.1 896.4H563.2" stroke="#000000" stroke-width="2.5" fill="none"/><circle cx="544.2" cy="896.4" r="3.75" fill="none" stroke="#000000" stroke-width="2.2"/><text x="566.9" y="902.7" font-size="16" fill="#000">ELSEC</text>
<clipPath id="cHamster"><rect x="922.2" y="613.4" width="371.2" height="481.9"/></clipPath>
<rect x="922.2" y="613.4" width="371.2" height="481.9" fill="none" stroke="#7a7a7a" stroke-width="1.3"/>
<path d="M945 1095.3v-5M945 613.4v5M991.47 1095.3v-5M991.47 613.4v5M1037.94 1095.3v-5M1037.94 613.4v5M1084.41 1095.3v-5M1084.41 613.4v5M1130.89 1095.3v-5M1130.89 613.4v5M1177.36 1095.3v-5M1177.36 613.4v5M1223.83 1095.3v-5M1223.83 613.4v5M1270.3 1095.3v-5M1270.3 613.4v5M922.2 1095.3h5M1293.4 1095.3h-5M922.2 998.94h5M1293.4 998.94h-5M922.2 902.58h5M1293.4 902.58h-5M922.2 806.22h5M1293.4 806.22h-5M922.2 709.86h5M1293.4 709.86h-5M922.2 613.5h5M1293.4 613.5h-5" stroke="#606060" stroke-width="1.05" fill="none"/>
<g font-size="18.5" fill="#1a1a1a"><text x="932.14" y="1120.3">0.2</text><text x="978.61" y="1120.3">0.3</text><text x="1025.08" y="1120.3">0.4</text><text x="1071.56" y="1120.3">0.5</text><text x="1118.03" y="1120.3">0.6</text><text x="1164.5" y="1120.3">0.7</text><text x="1210.97" y="1120.3">0.8</text><text x="1257.44" y="1120.3">0.9</text><text x="905.41" y="1102.5">0</text><text x="889.98" y="1006.14">0.2</text><text x="889.98" y="909.78">0.4</text><text x="889.98" y="813.42">0.6</text><text x="889.98" y="717.06">0.8</text><text x="905.41" y="620.7"> </text><path transform="translate(905.41 620.7) scale(0.00903 -0.00903)" d="M763 0H583V1098C540 1059 483 1020 413 980C342 941 279 911 223 891V1058C324 1103 412 1158 487 1221C562 1284 615 1347 646 1409H763Z"/></g>
<text x="1107.8" y="608.1" text-anchor="middle" font-size="20" fill="#000">Hamster</text>
<text x="1107.8" y="1138" text-anchor="middle" font-size="12.5" fill="#262626">p</text>
<text transform="translate(884.7 854.35) rotate(-90)" text-anchor="middle" font-size="12.5" fill="#262626">RBO</text>
<g fill="none" stroke-linejoin="round"><polyline points="945,679.51 991.47,714.2 1037.94,748.4 1084.41,783.58 1130.89,818.26 1177.36,853.92 1223.83,890.05 1270.3,932.45" stroke="#e81010" stroke-width="2.5"/><g stroke="#e81010" stroke-width="2.2"><circle cx="945" cy="679.51" r="3.75"/><circle cx="991.47" cy="714.2" r="3.75"/><circle cx="1037.94" cy="748.4" r="3.75"/><circle cx="1084.41" cy="783.58" r="3.75"/><circle cx="1130.89" cy="818.26" r="3.75"/><circle cx="1177.36" cy="853.92" r="3.75"/><circle cx="1223.83" cy="890.05" r="3.75"/><circle cx="1270.3" cy="932.45" r="3.75"/></g><polyline points="945,1093.61 991.47,1092.6 1037.94,1091.59 1084.41,1090.24 1130.89,1089.23 1177.36,1088.55 1223.83,1087.59 1270.3,1087.59" stroke="#10e810" stroke-width="2.5"/><g stroke="#10e810" stroke-width="2.2"><circle cx="945" cy="1093.61" r="3.75"/><circle cx="991.47" cy="1092.6" r="3.75"/><circle cx="1037.94" cy="1091.59" r="3.75"/><circle cx="1084.41" cy="1090.24" r="3.75"/><circle cx="1130.89" cy="1089.23" r="3.75"/><circle cx="1177.36" cy="1088.55" r="3.75"/><circle cx="1223.83" cy="1087.59" r="3.75"/><circle cx="1270.3" cy="1087.59" r="3.75"/></g><polyline points="945,622.65 991.47,634.7 1037.94,651.56 1084.41,671.8 1130.89,698.78 1177.36,728.65 1223.83,761.89 1270.3,798.03" stroke="#0808d8" stroke-width="2.5"/><g stroke="#0808d8" stroke-width="2.2"><circle cx="945" cy="622.65" r="3.75"/><circle cx="991.47" cy="634.7" r="3.75"/><circle cx="1037.94" cy="651.56" r="3.75"/><circle cx="1084.41" cy="671.8" r="3.75"/><circle cx="1130.89" cy="698.78" r="3.75"/><circle cx="1177.36" cy="728.65" r="3.75"/><circle cx="1223.83" cy="761.89" r="3.75"/><circle cx="1270.3" cy="798.03" r="3.75"/></g><polyline points="945,620.73 991.47,630.36 1037.94,641.93 1084.41,656.86 1130.89,675.17 1177.36,699.74 1223.83,728.65 1270.3,765.75" stroke="#10e8e8" stroke-width="2.5"/><g stroke="#10e8e8" stroke-width="2.2"><circle cx="945" cy="620.73" r="3.75"/><circle cx="991.47" cy="630.36" r="3.75"/><circle cx="1037.94" cy="641.93" r="3.75"/><circle cx="1084.41" cy="656.86" r="3.75"/><circle cx="1130.89" cy="675.17" r="3.75"/><circle cx="1177.36" cy="699.74" r="3.75"/><circle cx="1223.83" cy="728.65" r="3.75"/><circle cx="1270.3" cy="765.75" r="3.75"/></g><polyline points="945,622.65 991.47,634.7 1037.94,649.15 1084.41,666.98 1130.89,691.55 1177.36,719.01 1223.83,748.89 1270.3,782.61" stroke="#e810e8" stroke-width="2.5"/><g stroke="#e810e8" stroke-width="2.2"><circle cx="945" cy="622.65" r="3.75"/><circle cx="991.47" cy="634.7" r="3.75"/><circle cx="1037.94" cy="649.15" r="3.75"/><circle cx="1084.41" cy="666.98" r="3.75"/><circle cx="1130.89" cy="691.55" r="3.75"/><circle cx="1177.36" cy="719.01" r="3.75"/><circle cx="1223.83" cy="748.89" r="3.75"/><circle cx="1270.3" cy="782.61" r="3.75"/></g><polyline points="945,620.73 991.47,629.4 1037.94,641.44 1084.41,655.9 1130.89,672.76 1177.36,693.96 1223.83,718.53 1270.3,747.44" stroke="#eeee10" stroke-width="2.5"/><g stroke="#eeee10" stroke-width="2.2"><circle cx="945" cy="620.73" r="3.75"/><circle cx="991.47" cy="629.4" r="3.75"/><circle cx="1037.94" cy="641.44" r="3.75"/><circle cx="1084.41" cy="655.9" r="3.75"/><circle cx="1130.89" cy="672.76" r="3.75"/><circle cx="1177.36" cy="693.96" r="3.75"/><circle cx="1223.83" cy="718.53" r="3.75"/><circle cx="1270.3" cy="747.44" r="3.75"/></g><polyline points="945,620.73 991.47,629.4 1037.94,641.44 1084.41,655.9 1130.89,675.17 1177.36,698.78 1223.83,728.65 1270.3,764.3" stroke="#0808d8" stroke-width="2.5" stroke-dasharray="9 10.5"/><g stroke="#0808d8" stroke-width="2.2"><circle cx="945" cy="620.73" r="3.75"/><circle cx="991.47" cy="629.4" r="3.75"/><circle cx="1037.94" cy="641.44" r="3.75"/><circle cx="1084.41" cy="655.9" r="3.75"/><circle cx="1130.89" cy="675.17" r="3.75"/><circle cx="1177.36" cy="698.78" r="3.75"/><circle cx="1223.83" cy="728.65" r="3.75"/><circle cx="1270.3" cy="764.3" r="3.75"/></g><polyline points="945,613.98 991.47,618.8 1037.94,625.55 1084.41,637.11 1130.89,651.56 1177.36,669.39 1223.83,687.22 1270.3,702.63" stroke="#000000" stroke-width="2.5"/><g stroke="#000000" stroke-width="2.2"><circle cx="945" cy="613.98" r="3.75"/><circle cx="991.47" cy="618.8" r="3.75"/><circle cx="1037.94" cy="625.55" r="3.75"/><circle cx="1084.41" cy="637.11" r="3.75"/><circle cx="1130.89" cy="651.56" r="3.75"/><circle cx="1177.36" cy="669.39" r="3.75"/><circle cx="1223.83" cy="687.22" r="3.75"/><circle cx="1270.3" cy="702.63" r="3.75"/></g></g>
<rect x="956.5" y="760.4" width="103.2" height="168.5" fill="#fff" stroke="#7a7a7a" stroke-width="1.2"/><path d="M960.9 771.8H999" stroke="#e81010" stroke-width="2.5" fill="none"/><circle cx="980" cy="771.8" r="3.75" fill="none" stroke="#e81010" stroke-width="2.2"/><text x="1002.7" y="778.1" font-size="16" fill="#000">BC</text><path d="M960.9 792.5H999" stroke="#10e810" stroke-width="2.5" fill="none"/><circle cx="980" cy="792.5" r="3.75" fill="none" stroke="#10e810" stroke-width="2.2"/><text x="1002.7" y="798.8" font-size="16" fill="#000">KS</text><path d="M960.9 813.2H999" stroke="#0808d8" stroke-width="2.5" fill="none"/><circle cx="980" cy="813.2" r="3.75" fill="none" stroke="#0808d8" stroke-width="2.2"/><text x="1002.7" y="819.5" font-size="16" fill="#000">GLS</text><path d="M960.9 833.9H999" stroke="#10e8e8" stroke-width="2.5" fill="none"/><circle cx="980" cy="833.9" r="3.75" fill="none" stroke="#10e8e8" stroke-width="2.2"/><text x="1002.7" y="840.2" font-size="16" fill="#000">LGC</text><path d="M960.9 854.6H999" stroke="#e810e8" stroke-width="2.5" fill="none"/><circle cx="980" cy="854.6" r="3.75" fill="none" stroke="#e810e8" stroke-width="2.2"/><text x="1002.7" y="860.9" font-size="16" fill="#000">GGC</text><path d="M960.9 875.3H999" stroke="#eeee10" stroke-width="2.5" fill="none"/><circle cx="980" cy="875.3" r="3.75" fill="none" stroke="#eeee10" stroke-width="2.2"/><text x="1002.7" y="881.6" font-size="16" fill="#000">EGM</text><path d="M960.9 896H970.7M977 896H990.7" stroke="#0808d8" stroke-width="2.5" fill="none"/><circle cx="980" cy="896" r="3.75" fill="none" stroke="#0808d8" stroke-width="2.2"/><text x="1002.7" y="902.3" font-size="16" fill="#000">ALSI</text><path d="M960.9 916.7H999" stroke="#000000" stroke-width="2.5" fill="none"/><circle cx="980" cy="916.7" r="3.75" fill="none" stroke="#000000" stroke-width="2.2"/><text x="1002.7" y="923" font-size="16" fill="#000">ELSEC</text>
<clipPath id="cPowerGrid"><rect x="48.6" y="1204.7" width="370.8" height="484.4"/></clipPath>
<rect x="48.6" y="1204.7" width="370.8" height="484.4" fill="none" stroke="#7a7a7a" stroke-width="1.3"/>
<path d="M64.2 1689.1v-5M64.2 1204.7v5M110.51 1689.1v-5M110.51 1204.7v5M156.83 1689.1v-5M156.83 1204.7v5M203.14 1689.1v-5M203.14 1204.7v5M249.46 1689.1v-5M249.46 1204.7v5M295.77 1689.1v-5M295.77 1204.7v5M342.09 1689.1v-5M342.09 1204.7v5M388.4 1689.1v-5M388.4 1204.7v5M48.6 1673h5M419.4 1673h-5M48.6 1575.97h5M419.4 1575.97h-5M48.6 1478.95h5M419.4 1478.95h-5M48.6 1381.93h5M419.4 1381.93h-5M48.6 1284.9h5M419.4 1284.9h-5" stroke="#606060" stroke-width="1.05" fill="none"/>
<g font-size="18.5" fill="#1a1a1a"><text x="51.34" y="1714.1">0.2</text><text x="97.66" y="1714.1">0.3</text><text x="143.97" y="1714.1">0.4</text><text x="190.28" y="1714.1">0.5</text><text x="236.6" y="1714.1">0.6</text><text x="282.91" y="1714.1">0.7</text><text x="329.23" y="1714.1">0.8</text><text x="375.54" y="1714.1">0.9</text><text x="31.81" y="1680.2">0</text><text x="16.38" y="1583.17">0.2</text><text x="16.38" y="1486.15">0.4</text><text x="16.38" y="1389.13">0.6</text><text x="16.38" y="1292.1">0.8</text></g>
<text x="234" y="1199.4" text-anchor="middle" font-size="20" fill="#000">PowerGrid</text>
<text x="234" y="1731.8" text-anchor="middle" font-size="12.5" fill="#262626">p</text>
<text transform="translate(11.4 1446.9) rotate(-90)" text-anchor="middle" font-size="12.5" fill="#262626">RBO</text>
<g fill="none" stroke-linejoin="round"><polyline points="64.2,1673 110.51,1673 156.83,1673 203.14,1673 249.46,1673 295.77,1673 342.09,1673 388.4,1673" stroke="#e81010" stroke-width="2.5"/><g stroke="#e81010" stroke-width="2.2"><circle cx="64.2" cy="1673" r="3.75"/><circle cx="110.51" cy="1673" r="3.75"/><circle cx="156.83" cy="1673" r="3.75"/><circle cx="203.14" cy="1673" r="3.75"/><circle cx="249.46" cy="1673" r="3.75"/><circle cx="295.77" cy="1673" r="3.75"/><circle cx="342.09" cy="1673" r="3.75"/><circle cx="388.4" cy="1673" r="3.75"/></g><polyline points="64.2,1669.26 110.51,1665.87 156.83,1665.24 203.14,1665.24 249.46,1665.87 295.77,1666.89 342.09,1667.91 388.4,1669.6" stroke="#10e810" stroke-width="2.5"/><g stroke="#10e810" stroke-width="2.2"><circle cx="64.2" cy="1669.26" r="3.75"/><circle cx="110.51" cy="1665.87" r="3.75"/><circle cx="156.83" cy="1665.24" r="3.75"/><circle cx="203.14" cy="1665.24" r="3.75"/><circle cx="249.46" cy="1665.87" r="3.75"/><circle cx="295.77" cy="1666.89" r="3.75"/><circle cx="342.09" cy="1667.91" r="3.75"/><circle cx="388.4" cy="1669.6" r="3.75"/></g><polyline points="64.2,1669.26 110.51,1665.24 156.83,1660.87 203.14,1654.08 249.46,1647.29 295.77,1640.5 342.09,1631.91 388.4,1609.93" stroke="#0808d8" stroke-width="2.5"/><g stroke="#0808d8" stroke-width="2.2"><circle cx="64.2" cy="1669.26" r="3.75"/><circle cx="110.51" cy="1665.24" r="3.75"/><circle cx="156.83" cy="1660.87" r="3.75"/><circle cx="203.14" cy="1654.08" r="3.75"/><circle cx="249.46" cy="1647.29" r="3.75"/><circle cx="295.77" cy="1640.5" r="3.75"/><circle cx="342.09" cy="1631.91" r="3.75"/><circle cx="388.4" cy="1609.93" r="3.75"/></g><polyline points="64.2,1673 110.51,1673 156.83,1673 203.14,1673 249.46,1673.49 295.77,1672.03 342.09,1667.91 388.4,1647.53" stroke="#10e8e8" stroke-width="2.5"/><g stroke="#10e8e8" stroke-width="2.2"><circle cx="64.2" cy="1673" r="3.75"/><circle cx="110.51" cy="1673" r="3.75"/><circle cx="156.83" cy="1673" r="3.75"/><circle cx="203.14" cy="1673" r="3.75"/><circle cx="249.46" cy="1673.49" r="3.75"/><circle cx="295.77" cy="1672.03" r="3.75"/><circle cx="342.09" cy="1667.91" r="3.75"/><circle cx="388.4" cy="1647.53" r="3.75"/></g><polyline points="64.2,1673 110.51,1673 156.83,1672.51 203.14,1672.03 249.46,1669.26 295.77,1665.87 342.09,1657.48 388.4,1635.31" stroke="#e810e8" stroke-width="2.5"/><g stroke="#e810e8" stroke-width="2.2"><circle cx="64.2" cy="1673" r="3.75"/><circle cx="110.51" cy="1673" r="3.75"/><circle cx="156.83" cy="1672.51" r="3.75"/><circle cx="203.14" cy="1672.03" r="3.75"/><circle cx="249.46" cy="1669.26" r="3.75"/><circle cx="295.77" cy="1665.87" r="3.75"/><circle cx="342.09" cy="1657.48" r="3.75"/><circle cx="388.4" cy="1635.31" r="3.75"/></g><polyline points="64.2,1643.12 110.51,1630.55 156.83,1619.64 203.14,1609.16 249.46,1598.97 295.77,1588.1 342.09,1573.06 388.4,1535.71" stroke="#eeee10" stroke-width="2.5"/><g stroke="#eeee10" stroke-width="2.2"><circle cx="64.2" cy="1643.12" r="3.75"/><circle cx="110.51" cy="1630.55" r="3.75"/><circle cx="156.83" cy="1619.64" r="3.75"/><circle cx="203.14" cy="1609.16" r="3.75"/><circle cx="249.46" cy="1598.97" r="3.75"/><circle cx="295.77" cy="1588.1" r="3.75"/><circle cx="342.09" cy="1573.06" r="3.75"/><circle cx="388.4" cy="1535.71" r="3.75"/></g><polyline points="64.2,1669.26 110.51,1664.51 156.83,1658.45 203.14,1648.89 249.46,1637.1 295.77,1619.64 342.09,1593.2 388.4,1549.78" stroke="#0808d8" stroke-width="2.5" stroke-dasharray="9 10.5"/><g stroke="#0808d8" stroke-width="2.2"><circle cx="64.2" cy="1669.26" r="3.75"/><circle cx="110.51" cy="1664.51" r="3.75"/><circle cx="156.83" cy="1658.45" r="3.75"/><circle cx="203.14" cy="1648.89" r="3.75"/><circle cx="249.46" cy="1637.1" r="3.75"/><circle cx="295.77" cy="1619.64" r="3.75"/><circle cx="342.09" cy="1593.2" r="3.75"/><circle cx="388.4" cy="1549.78" r="3.75"/></g><polyline points="64.2,1250.46 110.51,1279.08 156.83,1306.25 203.14,1331.96 249.46,1354.76 295.77,1375.62 342.09,1394.54 388.4,1415.88" stroke="#000000" stroke-width="2.5"/><g stroke="#000000" stroke-width="2.2"><circle cx="64.2" cy="1250.46" r="3.75"/><circle cx="110.51" cy="1279.08" r="3.75"/><circle cx="156.83" cy="1306.25" r="3.75"/><circle cx="203.14" cy="1331.96" r="3.75"/><circle cx="249.46" cy="1354.76" r="3.75"/><circle cx="295.77" cy="1375.62" r="3.75"/><circle cx="342.09" cy="1394.54" r="3.75"/><circle cx="388.4" cy="1415.88" r="3.75"/></g></g>
<rect x="70.4" y="1324.7" width="103.2" height="168.5" fill="#fff" stroke="#7a7a7a" stroke-width="1.2"/><path d="M74.8 1336.1H112.9" stroke="#e81010" stroke-width="2.5" fill="none"/><circle cx="93.9" cy="1336.1" r="3.75" fill="none" stroke="#e81010" stroke-width="2.2"/><text x="116.6" y="1342.4" font-size="16" fill="#000">BC</text><path d="M74.8 1356.8H112.9" stroke="#10e810" stroke-width="2.5" fill="none"/><circle cx="93.9" cy="1356.8" r="3.75" fill="none" stroke="#10e810" stroke-width="2.2"/><text x="116.6" y="1363.1" font-size="16" fill="#000">KS</text><path d="M74.8 1377.5H112.9" stroke="#0808d8" stroke-width="2.5" fill="none"/><circle cx="93.9" cy="1377.5" r="3.75" fill="none" stroke="#0808d8" stroke-width="2.2"/><text x="116.6" y="1383.8" font-size="16" fill="#000">GLS</text><path d="M74.8 1398.2H112.9" stroke="#10e8e8" stroke-width="2.5" fill="none"/><circle cx="93.9" cy="1398.2" r="3.75" fill="none" stroke="#10e8e8" stroke-width="2.2"/><text x="116.6" y="1404.5" font-size="16" fill="#000">LGC</text><path d="M74.8 1418.9H112.9" stroke="#e810e8" stroke-width="2.5" fill="none"/><circle cx="93.9" cy="1418.9" r="3.75" fill="none" stroke="#e810e8" stroke-width="2.2"/><text x="116.6" y="1425.2" font-size="16" fill="#000">GGC</text><path d="M74.8 1439.6H112.9" stroke="#eeee10" stroke-width="2.5" fill="none"/><circle cx="93.9" cy="1439.6" r="3.75" fill="none" stroke="#eeee10" stroke-width="2.2"/><text x="116.6" y="1445.9" font-size="16" fill="#000">EGM</text><path d="M74.8 1460.3H84.6M90.9 1460.3H104.6" stroke="#0808d8" stroke-width="2.5" fill="none"/><circle cx="93.9" cy="1460.3" r="3.75" fill="none" stroke="#0808d8" stroke-width="2.2"/><text x="116.6" y="1466.6" font-size="16" fill="#000">ALSI</text><path d="M74.8 1481H112.9" stroke="#000000" stroke-width="2.5" fill="none"/><circle cx="93.9" cy="1481" r="3.75" fill="none" stroke="#000000" stroke-width="2.2"/><text x="116.6" y="1487.3" font-size="16" fill="#000">ELSEC</text>
<clipPath id="cPGP"><rect x="482.5" y="1204.7" width="368.6" height="484.4"/></clipPath>
<rect x="482.5" y="1204.7" width="368.6" height="484.4" fill="none" stroke="#7a7a7a" stroke-width="1.3"/>
<path d="M506.8 1689.1v-5M506.8 1204.7v5M552.86 1689.1v-5M552.86 1204.7v5M598.91 1689.1v-5M598.91 1204.7v5M644.97 1689.1v-5M644.97 1204.7v5M691.03 1689.1v-5M691.03 1204.7v5M737.09 1689.1v-5M737.09 1204.7v5M783.14 1689.1v-5M783.14 1204.7v5M829.2 1689.1v-5M829.2 1204.7v5M482.5 1677.3h5M851.1 1677.3h-5M482.5 1580.42h5M851.1 1580.42h-5M482.5 1483.55h5M851.1 1483.55h-5M482.5 1386.67h5M851.1 1386.67h-5M482.5 1289.8h5M851.1 1289.8h-5" stroke="#606060" stroke-width="1.05" fill="none"/>
<g font-size="18.5" fill="#1a1a1a"><text x="493.94" y="1714.1">0.2</text><text x="540" y="1714.1">0.3</text><text x="586.06" y="1714.1">0.4</text><text x="632.11" y="1714.1">0.5</text><text x="678.17" y="1714.1">0.6</text><text x="724.23" y="1714.1">0.7</text><text x="770.28" y="1714.1">0.8</text><text x="816.34" y="1714.1">0.9</text><text x="465.71" y="1684.5">0</text><text x="439.99" y="1587.62">0.05</text><text x="450.28" y="1490.75">0. </text><path transform="translate(465.71 1490.75) scale(0.00903 -0.00903)" d="M763 0H583V1098C540 1059 483 1020 413 980C342 941 279 911 223 891V1058C324 1103 412 1158 487 1221C562 1284 615 1347 646 1409H763Z"/><text x="439.99" y="1393.88">0. 5</text><path transform="translate(455.42 1393.88) scale(0.00903 -0.00903)" d="M763 0H583V1098C540 1059 483 1020 413 980C342 941 279 911 223 891V1058C324 1103 412 1158 487 1221C562 1284 615 1347 646 1409H763Z"/><text x="450.28" y="1297">0.2</text></g>
<text x="672.8" y="1198.4" text-anchor="middle" font-size="20" fill="#000">PGP</text>
<text x="666.8" y="1731.8" text-anchor="middle" font-size="12.5" fill="#262626">p</text>
<text transform="translate(445.6 1442.5) rotate(-90)" text-anchor="middle" font-size="12.5" fill="#262626">RBO</text>
<g fill="none" stroke-linejoin="round"><polyline points="506.8,1675.27 552.86,1670.13 598.91,1661.02 644.97,1648.24 691.03,1631.19 737.09,1608.52 783.14,1581.39 829.2,1540.71" stroke="#e81010" stroke-width="2.5"/><g stroke="#e81010" stroke-width="2.2"><circle cx="506.8" cy="1675.27" r="3.75"/><circle cx="552.86" cy="1670.13" r="3.75"/><circle cx="598.91" cy="1661.02" r="3.75"/><circle cx="644.97" cy="1648.24" r="3.75"/><circle cx="691.03" cy="1631.19" r="3.75"/><circle cx="737.09" cy="1608.52" r="3.75"/><circle cx="783.14" cy="1581.39" r="3.75"/><circle cx="829.2" cy="1540.71" r="3.75"/></g><polyline points="506.8,1667.81 552.86,1662.77 598.91,1657.73 644.97,1652.5 691.03,1645.72 737.09,1636.22 783.14,1624.79 829.2,1619.37" stroke="#10e810" stroke-width="2.5"/><g stroke="#10e810" stroke-width="2.2"><circle cx="506.8" cy="1667.81" r="3.75"/><circle cx="552.86" cy="1662.77" r="3.75"/><circle cx="598.91" cy="1657.73" r="3.75"/><circle cx="644.97" cy="1652.5" r="3.75"/><circle cx="691.03" cy="1645.72" r="3.75"/><circle cx="737.09" cy="1636.22" r="3.75"/><circle cx="783.14" cy="1624.79" r="3.75"/><circle cx="829.2" cy="1619.37" r="3.75"/></g><polyline points="506.8,1675.27 552.86,1670.13 598.91,1661.02 644.97,1648.04 691.03,1626.92 737.09,1593.21 783.14,1531.6 829.2,1404.11" stroke="#0808d8" stroke-width="2.5"/><g stroke="#0808d8" stroke-width="2.2"><circle cx="506.8" cy="1675.27" r="3.75"/><circle cx="552.86" cy="1670.13" r="3.75"/><circle cx="598.91" cy="1661.02" r="3.75"/><circle cx="644.97" cy="1648.04" r="3.75"/><circle cx="691.03" cy="1626.92" r="3.75"/><circle cx="737.09" cy="1593.21" r="3.75"/><circle cx="783.14" cy="1531.6" r="3.75"/><circle cx="829.2" cy="1404.11" r="3.75"/></g><polyline points="506.8,1675.27 552.86,1670.13 598.91,1661.02 644.97,1648.04 691.03,1626.92 737.09,1595.92 783.14,1537.41 829.2,1411.09" stroke="#10e8e8" stroke-width="2.5"/><g stroke="#10e8e8" stroke-width="2.2"><circle cx="506.8" cy="1675.27" r="3.75"/><circle cx="552.86" cy="1670.13" r="3.75"/><circle cx="598.91" cy="1661.02" r="3.75"/><circle cx="644.97" cy="1648.04" r="3.75"/><circle cx="691.03" cy="1626.92" r="3.75"/><circle cx="737.09" cy="1595.92" r="3.75"/><circle cx="783.14" cy="1537.41" r="3.75"/><circle cx="829.2" cy="1411.09" r="3.75"/></g><polyline points="506.8,1675.27 552.86,1670.13 598.91,1661.02 644.97,1648.04 691.03,1627.7 737.09,1599.41 783.14,1548.26 829.2,1451.77" stroke="#e810e8" stroke-width="2.5"/><g stroke="#e810e8" stroke-width="2.2"><circle cx="506.8" cy="1675.27" r="3.75"/><circle cx="552.86" cy="1670.13" r="3.75"/><circle cx="598.91" cy="1661.02" r="3.75"/><circle cx="644.97" cy="1648.04" r="3.75"/><circle cx="691.03" cy="1627.7" r="3.75"/><circle cx="737.09" cy="1599.41" r="3.75"/><circle cx="783.14" cy="1548.26" r="3.75"/><circle cx="829.2" cy="1451.77" r="3.75"/></g><polyline points="506.8,1675.27 552.86,1670.13 598.91,1661.02 644.97,1645.72 691.03,1624.02 737.09,1584.88 783.14,1503.51 829.2,1312.08" stroke="#eeee10" stroke-width="2.5"/><g stroke="#eeee10" stroke-width="2.2"><circle cx="506.8" cy="1675.27" r="3.75"/><circle cx="552.86" cy="1670.13" r="3.75"/><circle cx="598.91" cy="1661.02" r="3.75"/><circle cx="644.97" cy="1645.72" r="3.75"/><circle cx="691.03" cy="1624.02" r="3.75"/><circle cx="737.09" cy="1584.88" r="3.75"/><circle cx="783.14" cy="1503.51" r="3.75"/><circle cx="829.2" cy="1312.08" r="3.75"/></g><polyline points="506.8,1675.27 552.86,1670.13 598.91,1661.02 644.97,1647.46 691.03,1626.34 737.09,1593.21 783.14,1531.6 829.2,1387.64" stroke="#0808d8" stroke-width="2.5" stroke-dasharray="9 10.5"/><g stroke="#0808d8" stroke-width="2.2"><circle cx="506.8" cy="1675.27" r="3.75"/><circle cx="552.86" cy="1670.13" r="3.75"/><circle cx="598.91" cy="1661.02" r="3.75"/><circle cx="644.97" cy="1647.46" r="3.75"/><circle cx="691.03" cy="1626.34" r="3.75"/><circle cx="737.09" cy="1593.21" r="3.75"/><circle cx="783.14" cy="1531.6" r="3.75"/><circle cx="829.2" cy="1387.64" r="3.75"/></g><polyline points="506.8,1675.27 552.86,1670.13 598.91,1661.02 644.97,1644.17 691.03,1617.62 737.09,1568.8 783.14,1469.99 829.2,1261.32" stroke="#000000" stroke-width="2.5"/><g stroke="#000000" stroke-width="2.2"><circle cx="506.8" cy="1675.27" r="3.75"/><circle cx="552.86" cy="1670.13" r="3.75"/><circle cx="598.91" cy="1661.02" r="3.75"/><circle cx="644.97" cy="1644.17" r="3.75"/><circle cx="691.03" cy="1617.62" r="3.75"/><circle cx="737.09" cy="1568.8" r="3.75"/><circle cx="783.14" cy="1469.99" r="3.75"/><circle cx="829.2" cy="1261.32" r="3.75"/></g></g>
<rect x="503.4" y="1327.4" width="103.2" height="168.5" fill="#fff" stroke="#7a7a7a" stroke-width="1.2"/><path d="M507.8 1338.8H545.9" stroke="#e81010" stroke-width="2.5" fill="none"/><circle cx="526.9" cy="1338.8" r="3.75" fill="none" stroke="#e81010" stroke-width="2.2"/><text x="549.6" y="1345.1" font-size="16" fill="#000">BC</text><path d="M507.8 1359.5H545.9" stroke="#10e810" stroke-width="2.5" fill="none"/><circle cx="526.9" cy="1359.5" r="3.75" fill="none" stroke="#10e810" stroke-width="2.2"/><text x="549.6" y="1365.8" font-size="16" fill="#000">KS</text><path d="M507.8 1380.2H545.9" stroke="#0808d8" stroke-width="2.5" fill="none"/><circle cx="526.9" cy="1380.2" r="3.75" fill="none" stroke="#0808d8" stroke-width="2.2"/><text x="549.6" y="1386.5" font-size="16" fill="#000">GLS</text><path d="M507.8 1400.9H545.9" stroke="#10e8e8" stroke-width="2.5" fill="none"/><circle cx="526.9" cy="1400.9" r="3.75" fill="none" stroke="#10e8e8" stroke-width="2.2"/><text x="549.6" y="1407.2" font-size="16" fill="#000">LGC</text><path d="M507.8 1421.6H545.9" stroke="#e810e8" stroke-width="2.5" fill="none"/><circle cx="526.9" cy="1421.6" r="3.75" fill="none" stroke="#e810e8" stroke-width="2.2"/><text x="549.6" y="1427.9" font-size="16" fill="#000">GGC</text><path d="M507.8 1442.3H545.9" stroke="#eeee10" stroke-width="2.5" fill="none"/><circle cx="526.9" cy="1442.3" r="3.75" fill="none" stroke="#eeee10" stroke-width="2.2"/><text x="549.6" y="1448.6" font-size="16" fill="#000">EGM</text><path d="M507.8 1463H517.6M523.9 1463H537.6" stroke="#0808d8" stroke-width="2.5" fill="none"/><circle cx="526.9" cy="1463" r="3.75" fill="none" stroke="#0808d8" stroke-width="2.2"/><text x="549.6" y="1469.3" font-size="16" fill="#000">ALSI</text><path d="M507.8 1483.7H545.9" stroke="#000000" stroke-width="2.5" fill="none"/><circle cx="526.9" cy="1483.7" r="3.75" fill="none" stroke="#000000" stroke-width="2.2"/><text x="549.6" y="1490" font-size="16" fill="#000">ELSEC</text>
<clipPath id="cSex"><rect x="925" y="1204.9" width="371.5" height="483.3"/></clipPath>
<rect x="925" y="1204.9" width="371.5" height="483.3" fill="none" stroke="#7a7a7a" stroke-width="1.3"/>
<path d="M949.3 1688.2v-5M949.3 1204.9v5M995.71 1688.2v-5M995.71 1204.9v5M1042.13 1688.2v-5M1042.13 1204.9v5M1088.54 1688.2v-5M1088.54 1204.9v5M1134.96 1688.2v-5M1134.96 1204.9v5M1181.37 1688.2v-5M1181.37 1204.9v5M1227.79 1688.2v-5M1227.79 1204.9v5M1274.2 1688.2v-5M1274.2 1204.9v5M925 1668h5M1296.5 1668h-5M925 1614.3h5M1296.5 1614.3h-5M925 1560.6h5M1296.5 1560.6h-5M925 1506.9h5M1296.5 1506.9h-5M925 1453.2h5M1296.5 1453.2h-5M925 1399.5h5M1296.5 1399.5h-5M925 1345.8h5M1296.5 1345.8h-5M925 1292.1h5M1296.5 1292.1h-5M925 1238.4h5M1296.5 1238.4h-5" stroke="#606060" stroke-width="1.05" fill="none"/>
<g font-size="18.5" fill="#1a1a1a"><text x="936.44" y="1713.2">0.2</text><text x="982.86" y="1713.2">0.3</text><text x="1029.27" y="1713.2">0.4</text><text x="1075.68" y="1713.2">0.5</text><text x="1122.1" y="1713.2">0.6</text><text x="1168.51" y="1713.2">0.7</text><text x="1214.93" y="1713.2">0.8</text><text x="1261.34" y="1713.2">0.9</text><text x="908.21" y="1675.2">0</text><text x="872.2" y="1621.5">0.005</text><text x="882.49" y="1567.8">0.0 </text><path transform="translate(908.21 1567.8) scale(0.00903 -0.00903)" d="M763 0H583V1098C540 1059 483 1020 413 980C342 941 279 911 223 891V1058C324 1103 412 1158 487 1221C562 1284 615 1347 646 1409H763Z"/><text x="872.2" y="1514.1">0.0 5</text><path transform="translate(897.92 1514.1) scale(0.00903 -0.00903)" d="M763 0H583V1098C540 1059 483 1020 413 980C342 941 279 911 223 891V1058C324 1103 412 1158 487 1221C562 1284 615 1347 646 1409H763Z"/><text x="882.49" y="1460.4">0.02</text><text x="872.2" y="1406.7">0.025</text><text x="882.49" y="1353">0.03</text><text x="872.2" y="1299.3">0.035</text><text x="882.49" y="1245.6">0.04</text></g>
<text x="1110.75" y="1199.6" text-anchor="middle" font-size="20" fill="#000">Sex</text>
<text x="1110.75" y="1730.9" text-anchor="middle" font-size="12.5" fill="#262626">p</text>
<text transform="translate(873 1447.35) rotate(-90)" text-anchor="middle" font-size="12.5" fill="#262626">RBO</text>
<g fill="none" stroke-linejoin="round"><polyline points="949.3,1668 995.71,1668 1042.13,1668 1088.54,1668 1134.96,1668 1181.37,1668 1227.79,1666.93 1274.2,1618.6" stroke="#e81010" stroke-width="2.5"/><g stroke="#e81010" stroke-width="2.2"><circle cx="949.3" cy="1668" r="3.75"/><circle cx="995.71" cy="1668" r="3.75"/><circle cx="1042.13" cy="1668" r="3.75"/><circle cx="1088.54" cy="1668" r="3.75"/><circle cx="1134.96" cy="1668" r="3.75"/><circle cx="1181.37" cy="1668" r="3.75"/><circle cx="1227.79" cy="1666.93" r="3.75"/><circle cx="1274.2" cy="1618.6" r="3.75"/></g><polyline points="949.3,1601.41 995.71,1605.28 1042.13,1609.36 1088.54,1613.23 1134.96,1617.2 1181.37,1621.6 1227.79,1629.01 1274.2,1641.9" stroke="#10e810" stroke-width="2.5"/><g stroke="#10e810" stroke-width="2.2"><circle cx="949.3" cy="1601.41" r="3.75"/><circle cx="995.71" cy="1605.28" r="3.75"/><circle cx="1042.13" cy="1609.36" r="3.75"/><circle cx="1088.54" cy="1613.23" r="3.75"/><circle cx="1134.96" cy="1617.2" r="3.75"/><circle cx="1181.37" cy="1621.6" r="3.75"/><circle cx="1227.79" cy="1629.01" r="3.75"/><circle cx="1274.2" cy="1641.9" r="3.75"/></g><polyline points="949.3,1668 995.71,1668 1042.13,1668 1088.54,1668 1134.96,1668 1181.37,1668 1227.79,1665.64 1274.2,1590.03" stroke="#0808d8" stroke-width="2.5"/><g stroke="#0808d8" stroke-width="2.2"><circle cx="949.3" cy="1668" r="3.75"/><circle cx="995.71" cy="1668" r="3.75"/><circle cx="1042.13" cy="1668" r="3.75"/><circle cx="1088.54" cy="1668" r="3.75"/><circle cx="1134.96" cy="1668" r="3.75"/><circle cx="1181.37" cy="1668" r="3.75"/><circle cx="1227.79" cy="1665.64" r="3.75"/><circle cx="1274.2" cy="1590.03" r="3.75"/></g><polyline points="949.3,1668 995.71,1668 1042.13,1668 1088.54,1668 1134.96,1668 1181.37,1668 1227.79,1665.64 1274.2,1582.08" stroke="#10e8e8" stroke-width="2.5"/><g stroke="#10e8e8" stroke-width="2.2"><circle cx="949.3" cy="1668" r="3.75"/><circle cx="995.71" cy="1668" r="3.75"/><circle cx="1042.13" cy="1668" r="3.75"/><circle cx="1088.54" cy="1668" r="3.75"/><circle cx="1134.96" cy="1668" r="3.75"/><circle cx="1181.37" cy="1668" r="3.75"/><circle cx="1227.79" cy="1665.64" r="3.75"/><circle cx="1274.2" cy="1582.08" r="3.75"/></g><polyline points="949.3,1668 995.71,1668 1042.13,1668 1088.54,1668 1134.96,1668 1181.37,1668 1227.79,1666.93 1274.2,1576.71" stroke="#e810e8" stroke-width="2.5"/><g stroke="#e810e8" stroke-width="2.2"><circle cx="949.3" cy="1668" r="3.75"/><circle cx="995.71" cy="1668" r="3.75"/><circle cx="1042.13" cy="1668" r="3.75"/><circle cx="1088.54" cy="1668" r="3.75"/><circle cx="1134.96" cy="1668" r="3.75"/><circle cx="1181.37" cy="1668" r="3.75"/><circle cx="1227.79" cy="1666.93" r="3.75"/><circle cx="1274.2" cy="1576.71" r="3.75"/></g><polyline points="949.3,1668 995.71,1668 1042.13,1668 1088.54,1668 1134.96,1668 1181.37,1668 1227.79,1665.64 1274.2,1581.01" stroke="#eeee10" stroke-width="2.5"/><g stroke="#eeee10" stroke-width="2.2"><circle cx="949.3" cy="1668" r="3.75"/><circle cx="995.71" cy="1668" r="3.75"/><circle cx="1042.13" cy="1668" r="3.75"/><circle cx="1088.54" cy="1668" r="3.75"/><circle cx="1134.96" cy="1668" r="3.75"/><circle cx="1181.37" cy="1668" r="3.75"/><circle cx="1227.79" cy="1665.64" r="3.75"/><circle cx="1274.2" cy="1581.01" r="3.75"/></g><polyline points="949.3,1668 995.71,1668 1042.13,1668 1088.54,1668 1134.96,1668 1181.37,1668 1227.79,1665.64 1274.2,1590.03" stroke="#0808d8" stroke-width="2.5" stroke-dasharray="9 10.5"/><g stroke="#0808d8" stroke-width="2.2"><circle cx="949.3" cy="1668" r="3.75"/><circle cx="995.71" cy="1668" r="3.75"/><circle cx="1042.13" cy="1668" r="3.75"/><circle cx="1088.54" cy="1668" r="3.75"/><circle cx="1134.96" cy="1668" r="3.75"/><circle cx="1181.37" cy="1668" r="3.75"/><circle cx="1227.79" cy="1665.64" r="3.75"/><circle cx="1274.2" cy="1590.03" r="3.75"/></g><polyline points="949.3,1666.28 995.71,1658.87 1042.13,1641.15 1088.54,1603.56 1134.96,1543.42 1181.37,1456.42 1227.79,1352.24 1274.2,1238.4" stroke="#000000" stroke-width="2.5"/><g stroke="#000000" stroke-width="2.2"><circle cx="949.3" cy="1666.28" r="3.75"/><circle cx="995.71" cy="1658.87" r="3.75"/><circle cx="1042.13" cy="1641.15" r="3.75"/><circle cx="1088.54" cy="1603.56" r="3.75"/><circle cx="1134.96" cy="1543.42" r="3.75"/><circle cx="1181.37" cy="1456.42" r="3.75"/><circle cx="1227.79" cy="1352.24" r="3.75"/><circle cx="1274.2" cy="1238.4" r="3.75"/></g></g>
<rect x="944.6" y="1326.7" width="103.2" height="168.5" fill="#fff" stroke="#7a7a7a" stroke-width="1.2"/><path d="M949 1338.1H987.1" stroke="#e81010" stroke-width="2.5" fill="none"/><circle cx="968.1" cy="1338.1" r="3.75" fill="none" stroke="#e81010" stroke-width="2.2"/><text x="990.8" y="1344.4" font-size="16" fill="#000">BC</text><path d="M949 1358.8H987.1" stroke="#10e810" stroke-width="2.5" fill="none"/><circle cx="968.1" cy="1358.8" r="3.75" fill="none" stroke="#10e810" stroke-width="2.2"/><text x="990.8" y="1365.1" font-size="16" fill="#000">KS</text><path d="M949 1379.5H987.1" stroke="#0808d8" stroke-width="2.5" fill="none"/><circle cx="968.1" cy="1379.5" r="3.75" fill="none" stroke="#0808d8" stroke-width="2.2"/><text x="990.8" y="1385.8" font-size="16" fill="#000">GLS</text><path d="M949 1400.2H987.1" stroke="#10e8e8" stroke-width="2.5" fill="none"/><circle cx="968.1" cy="1400.2" r="3.75" fill="none" stroke="#10e8e8" stroke-width="2.2"/><text x="990.8" y="1406.5" font-size="16" fill="#000">LGC</text><path d="M949 1420.9H987.1" stroke="#e810e8" stroke-width="2.5" fill="none"/><circle cx="968.1" cy="1420.9" r="3.75" fill="none" stroke="#e810e8" stroke-width="2.2"/><text x="990.8" y="1427.2" font-size="16" fill="#000">GGC</text><path d="M949 1441.6H987.1" stroke="#eeee10" stroke-width="2.5" fill="none"/><circle cx="968.1" cy="1441.6" r="3.75" fill="none" stroke="#eeee10" stroke-width="2.2"/><text x="990.8" y="1447.9" font-size="16" fill="#000">EGM</text><path d="M949 1462.3H958.8M965.1 1462.3H978.8" stroke="#0808d8" stroke-width="2.5" fill="none"/><circle cx="968.1" cy="1462.3" r="3.75" fill="none" stroke="#0808d8" stroke-width="2.2"/><text x="990.8" y="1468.6" font-size="16" fill="#000">ALSI</text><path d="M949 1483H987.1" stroke="#000000" stroke-width="2.5" fill="none"/><circle cx="968.1" cy="1483" r="3.75" fill="none" stroke="#000000" stroke-width="2.2"/><text x="990.8" y="1489.3" font-size="16" fill="#000">ELSEC</text>
</svg>
</body></html>
